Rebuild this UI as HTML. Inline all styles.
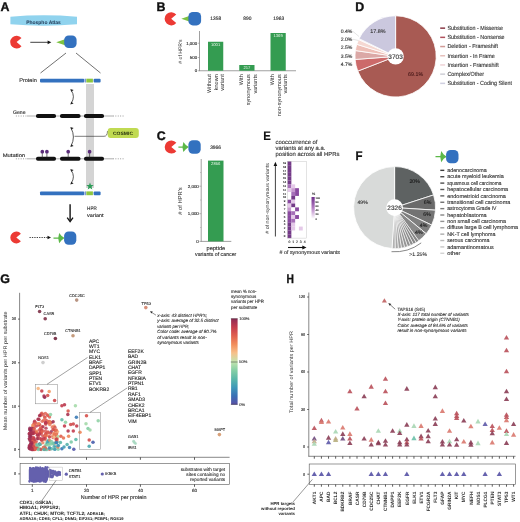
<!DOCTYPE html>
<html><head><meta charset="utf-8"><title>Figure</title>
<style>
html,body{margin:0;padding:0;background:#fff;}
svg{display:block;}
text{font-family:"Liberation Sans", Arial, sans-serif;text-rendering:geometricPrecision;}
</style></head>
<body>
<svg width="520" height="522" viewBox="0 0 520 522">
<rect x="0" y="0" width="520" height="522" fill="#fff"/>
<text x="0.60" y="10.90" font-size="12.4" font-weight="bold" fill="#111" stroke="#111" stroke-width="0.35">A</text>
<path d="M10.4,16.7 Q43.7,14 77,16.7 L77,24.3 Q43.7,27 10.4,24.3 Z" fill="#90d3ee"/>
<text x="43.50" y="23.90" font-size="5.0" text-anchor="middle" font-weight="bold" fill="#1e3552" textLength="34.6" lengthAdjust="spacingAndGlyphs">Phospho Atlas</text>
<path d="M16.60,42.10 L21.50,37.99 A6.4,6.4 0 1,0 21.50,46.21 Z" fill="#ec3a34"/>
<line x1="30.30" y1="42.30" x2="48.50" y2="42.30" stroke="#111" stroke-width="0.8"/>
<polygon points="51.3,42.3 47.6,40.4 47.6,44.2" fill="#111"/>
<polygon points="56.2,42.2 65,39.2 65,45.2" fill="#7cc242"/>
<rect x="64.20" y="35.50" width="12.40" height="12.60" fill="#3371bf" rx="4.5"/>
<line x1="66.00" y1="53.00" x2="40.50" y2="73.00" stroke="#333" stroke-width="0.7"/>
<line x1="76.00" y1="53.00" x2="100.50" y2="73.00" stroke="#333" stroke-width="0.7"/>
<rect x="86.00" y="84.00" width="8.00" height="104.00" fill="#d4d4d4"/>
<rect x="40.00" y="78.70" width="44.30" height="3.80" fill="#3371bf" rx="1"/>
<rect x="84.70" y="78.70" width="1.20" height="3.80" fill="#6f8fd0"/>
<rect x="86.30" y="78.70" width="6.60" height="3.80" fill="#8dc63f"/>
<rect x="93.60" y="78.70" width="7.00" height="3.80" fill="#3371bf" rx="1"/>
<text x="19.20" y="81.50" font-size="5.4" fill="#2a2a2a" textLength="17.6" lengthAdjust="spacingAndGlyphs" stroke="#2a2a2a" stroke-width="0.12">Protein</text>
<path d="M71.2,90.30 Q75.6,96.75 71.2,103.20" fill="none" stroke="#222" stroke-width="0.75"/>
<polygon points="70.3,89.00 73.6,90.10 71.3,91.80" fill="#222"/>
<polygon points="70.3,104.50 73.6,103.40 71.3,101.70" fill="#222"/>
<path d="M71.2,128.30 Q75.6,137.00 71.2,145.70" fill="none" stroke="#222" stroke-width="0.75"/>
<polygon points="70.3,127.00 73.6,128.10 71.3,129.80" fill="#222"/>
<polygon points="70.3,147.00 73.6,145.90 71.3,144.20" fill="#222"/>
<path d="M71.2,170.30 Q75.6,176.75 71.2,183.20" fill="none" stroke="#222" stroke-width="0.75"/>
<polygon points="70.3,169.00 73.6,170.10 71.3,171.80" fill="#222"/>
<polygon points="70.3,184.50 73.6,183.40 71.3,181.70" fill="#222"/>
<line x1="15.9" y1="116.00" x2="27" y2="116.00" stroke="#888" stroke-width="0.9" stroke-dasharray="0.9,1.5"/>
<line x1="27.00" y1="116.00" x2="113.00" y2="116.00" stroke="#999" stroke-width="0.8"/>
<line x1="113" y1="116.00" x2="123.5" y2="116.00" stroke="#888" stroke-width="0.9" stroke-dasharray="0.9,1.5"/>
<rect x="36.00" y="114.00" width="20.00" height="4.00" fill="#111" rx="1.8"/>
<rect x="60.00" y="114.00" width="20.50" height="4.00" fill="#111" rx="1.8"/>
<rect x="84.00" y="114.00" width="20.00" height="4.00" fill="#111" rx="1.8"/>
<text x="13.00" y="113.70" font-size="5.1" fill="#2a2a2a" textLength="12.5" lengthAdjust="spacingAndGlyphs" stroke="#2a2a2a" stroke-width="0.12">Gene</text>
<path d="M74.5,136.3 L104,136.3 Q107.5,136.3 107.5,131" fill="none" stroke="#222" stroke-width="0.6"/>
<rect x="107.70" y="128.00" width="31.10" height="10.00" fill="#c0da52" rx="3"/>
<text x="123.00" y="135.10" font-size="4.8" text-anchor="middle" font-weight="bold" fill="#24300c" textLength="20.1" lengthAdjust="spacingAndGlyphs">COSMIC</text>
<line x1="15.9" y1="158.80" x2="27" y2="158.80" stroke="#888" stroke-width="0.9" stroke-dasharray="0.9,1.5"/>
<line x1="27.00" y1="158.80" x2="113.00" y2="158.80" stroke="#999" stroke-width="0.8"/>
<line x1="113" y1="158.80" x2="123.5" y2="158.80" stroke="#888" stroke-width="0.9" stroke-dasharray="0.9,1.5"/>
<rect x="36.00" y="156.80" width="20.00" height="4.00" fill="#111" rx="1.8"/>
<rect x="60.00" y="156.80" width="20.50" height="4.00" fill="#111" rx="1.8"/>
<rect x="84.00" y="156.80" width="20.00" height="4.00" fill="#111" rx="1.8"/>
<text x="2.70" y="156.50" font-size="5.0" fill="#2a2a2a" textLength="22.5" lengthAdjust="spacingAndGlyphs" stroke="#2a2a2a" stroke-width="0.12">Mutation</text>
<line x1="42.30" y1="153.00" x2="42.30" y2="157.50" stroke="#333" stroke-width="0.7"/>
<circle cx="42.30" cy="151.70" r="1.85" fill="#5b2d7a"/>
<line x1="46.90" y1="153.00" x2="46.90" y2="157.50" stroke="#333" stroke-width="0.7"/>
<circle cx="46.90" cy="151.70" r="1.85" fill="#5b2d7a"/>
<line x1="68.20" y1="153.00" x2="68.20" y2="157.50" stroke="#333" stroke-width="0.7"/>
<circle cx="68.20" cy="151.70" r="1.85" fill="#5b2d7a"/>
<line x1="89.60" y1="153.00" x2="89.60" y2="157.50" stroke="#333" stroke-width="0.7"/>
<circle cx="89.60" cy="151.70" r="1.85" fill="#5b2d7a"/>
<rect x="40.00" y="191.40" width="44.30" height="3.80" fill="#3371bf" rx="1"/>
<rect x="84.70" y="191.40" width="1.20" height="3.80" fill="#6f8fd0"/>
<rect x="86.30" y="191.40" width="6.60" height="3.80" fill="#8dc63f"/>
<rect x="93.60" y="191.40" width="7.00" height="3.80" fill="#3371bf" rx="1"/>
<polygon points="90.00,182.40 90.94,185.01 93.71,185.09 91.52,186.79 92.29,189.46 90.00,187.90 87.71,189.46 88.48,186.79 86.29,185.09 89.06,185.01" fill="#2e9c58"/>
<line x1="70.10" y1="204.20" x2="70.10" y2="220.50" stroke="#111" stroke-width="1.4"/>
<polyline points="67.2,217.6 70.1,221.6 73.0,217.6" fill="none" stroke="#111" stroke-width="1.3"/>
<text x="87.10" y="210.00" font-size="5.0" fill="#2a2a2a" textLength="9.6" lengthAdjust="spacingAndGlyphs" stroke="#2a2a2a" stroke-width="0.12">HPR</text>
<text x="87.10" y="216.90" font-size="5.0" fill="#2a2a2a" textLength="16.5" lengthAdjust="spacingAndGlyphs" stroke="#2a2a2a" stroke-width="0.12">variant</text>
<path d="M16.30,237.50 L20.90,233.64 A6.0,6.0 0 1,0 20.90,241.36 Z" fill="#ec3a34"/>
<line x1="29.5" y1="237.5" x2="48" y2="237.5" stroke="#111" stroke-width="0.8" stroke-dasharray="1.3,1.1"/>
<polygon points="51,237.5 47.5,235.7 47.5,239.3" fill="#111"/>
<polygon points="53.50,237.45 58.30,237.45 59.20,232.90 61.63,236.00 64.60,238.10 61.63,240.20 59.20,243.30 58.30,238.75 53.50,238.75" fill="#5cb848"/>
<rect x="64.10" y="231.50" width="12.20" height="13.20" fill="#3371bf" rx="4.5"/>
<text x="156.60" y="11.00" font-size="12.4" font-weight="bold" fill="#111" stroke="#111" stroke-width="0.35">B</text>
<path d="M171.20,18.80 L176.26,14.56 A6.6,6.6 0 1,0 176.26,23.04 Z" fill="#ec3a34"/>
<polygon points="181.3,18.8 189.2,16.0 189.2,21.6" fill="#7cc242"/>
<rect x="188.40" y="11.90" width="12.70" height="13.50" fill="#3371bf" rx="4.5"/>
<text x="215.80" y="20.40" font-size="4.9" text-anchor="middle" fill="#2a2a2a" stroke="#2a2a2a" stroke-width="0.12">1358</text>
<text x="247.40" y="20.40" font-size="4.9" text-anchor="middle" fill="#2a2a2a" stroke="#2a2a2a" stroke-width="0.12">890</text>
<text x="278.75" y="20.40" font-size="4.9" text-anchor="middle" fill="#2a2a2a" stroke="#2a2a2a" stroke-width="0.12">1963</text>
<line x1="199.50" y1="31.00" x2="199.50" y2="70.90" stroke="#888" stroke-width="0.8"/>
<line x1="199.10" y1="70.75" x2="296.00" y2="70.75" stroke="#888" stroke-width="0.8"/>
<line x1="197.80" y1="43.25" x2="199.50" y2="43.25" stroke="#888" stroke-width="0.6"/>
<text x="197.20" y="44.75" font-size="4.4" text-anchor="end" fill="#2a2a2a" stroke="#2a2a2a" stroke-width="0.12">1,000</text>
<line x1="197.80" y1="57.50" x2="199.50" y2="57.50" stroke="#888" stroke-width="0.6"/>
<text x="197.20" y="59.00" font-size="4.4" text-anchor="end" fill="#2a2a2a" stroke="#2a2a2a" stroke-width="0.12">500</text>
<line x1="197.80" y1="70.75" x2="199.50" y2="70.75" stroke="#888" stroke-width="0.6"/>
<text x="197.20" y="72.25" font-size="4.4" text-anchor="end" fill="#2a2a2a" stroke="#2a2a2a" stroke-width="0.12">0</text>
<text x="0" y="0" font-size="5.1" fill="#2a2a2a" text-anchor="middle" transform="translate(182.0,51.6) rotate(-90)"># of HPR's</text>
<rect x="208.00" y="41.75" width="15.25" height="29.00" fill="#349c51"/>
<text x="215.62" y="45.95" font-size="4.2" text-anchor="middle" fill="#e8f5e8">1001</text>
<rect x="239.25" y="65.00" width="15.25" height="5.75" fill="#349c51"/>
<text x="246.88" y="69.20" font-size="4.2" text-anchor="middle" fill="#e8f5e8">217</text>
<rect x="270.50" y="33.00" width="15.25" height="37.75" fill="#349c51"/>
<text x="278.12" y="37.20" font-size="4.2" text-anchor="middle" fill="#e8f5e8">1369</text>
<text x="0" y="0" font-size="5.5" fill="#2a2a2a" text-anchor="end" transform="translate(211.40,74.30) rotate(-90)">Without</text>
<text x="0" y="0" font-size="5.5" fill="#2a2a2a" text-anchor="end" transform="translate(217.60,74.30) rotate(-90)">known</text>
<text x="0" y="0" font-size="5.5" fill="#2a2a2a" text-anchor="end" transform="translate(224.00,74.30) rotate(-90)">variant</text>
<text x="0" y="0" font-size="5.5" fill="#2a2a2a" text-anchor="end" transform="translate(243.00,74.30) rotate(-90)">With</text>
<text x="0" y="0" font-size="5.5" fill="#2a2a2a" text-anchor="end" transform="translate(249.90,74.30) rotate(-90)">synonymous</text>
<text x="0" y="0" font-size="5.5" fill="#2a2a2a" text-anchor="end" transform="translate(256.90,74.30) rotate(-90)">variants</text>
<text x="0" y="0" font-size="5.5" fill="#2a2a2a" text-anchor="end" transform="translate(273.80,74.30) rotate(-90)">With</text>
<text x="0" y="0" font-size="5.5" fill="#2a2a2a" text-anchor="end" transform="translate(280.70,74.30) rotate(-90)">non-synonymous</text>
<text x="0" y="0" font-size="5.5" fill="#2a2a2a" text-anchor="end" transform="translate(287.20,74.30) rotate(-90)">variants</text>
<text x="156.80" y="139.80" font-size="12.4" font-weight="bold" fill="#111" stroke="#111" stroke-width="0.35">C</text>
<path d="M171.30,147.00 L176.36,142.76 A6.6,6.6 0 1,0 176.36,151.24 Z" fill="#ec3a34"/>
<polygon points="178.40,146.45 182.50,146.45 183.40,142.10 185.83,145.00 188.80,147.10 185.83,149.20 183.40,152.10 182.50,147.75 178.40,147.75" fill="#5cb848"/>
<rect x="188.40" y="140.30" width="12.30" height="13.50" fill="#3371bf" rx="4.5"/>
<text x="215.60" y="148.80" font-size="4.9" text-anchor="middle" fill="#2a2a2a" stroke="#2a2a2a" stroke-width="0.12">3966</text>
<line x1="201.20" y1="159.00" x2="201.20" y2="241.60" stroke="#888" stroke-width="0.8"/>
<line x1="200.80" y1="241.40" x2="231.30" y2="241.40" stroke="#888" stroke-width="0.8"/>
<line x1="199.40" y1="186.20" x2="201.20" y2="186.20" stroke="#888" stroke-width="0.6"/>
<text x="198.80" y="187.70" font-size="4.4" text-anchor="end" fill="#2a2a2a" stroke="#2a2a2a" stroke-width="0.12">2,000</text>
<line x1="199.40" y1="213.70" x2="201.20" y2="213.70" stroke="#888" stroke-width="0.6"/>
<text x="198.80" y="215.20" font-size="4.4" text-anchor="end" fill="#2a2a2a" stroke="#2a2a2a" stroke-width="0.12">1,000</text>
<line x1="199.40" y1="241.40" x2="201.20" y2="241.40" stroke="#888" stroke-width="0.6"/>
<text x="198.80" y="242.90" font-size="4.4" text-anchor="end" fill="#2a2a2a" stroke="#2a2a2a" stroke-width="0.12">0</text>
<line x1="200.20" y1="172.50" x2="201.20" y2="172.50" stroke="#888" stroke-width="0.5"/>
<line x1="200.20" y1="200.00" x2="201.20" y2="200.00" stroke="#888" stroke-width="0.5"/>
<line x1="200.20" y1="227.50" x2="201.20" y2="227.50" stroke="#888" stroke-width="0.5"/>
<rect x="208.00" y="160.60" width="15.50" height="80.80" fill="#349c51"/>
<text x="215.75" y="164.70" font-size="4.2" text-anchor="middle" fill="#e8f5e8">2856</text>
<text x="215.90" y="249.80" font-size="5.5" text-anchor="middle" fill="#2a2a2a" textLength="18.7" lengthAdjust="spacingAndGlyphs" stroke="#2a2a2a" stroke-width="0.12">peptide</text>
<text x="215.70" y="255.60" font-size="5.5" text-anchor="middle" fill="#2a2a2a" textLength="41.2" lengthAdjust="spacingAndGlyphs" stroke="#2a2a2a" stroke-width="0.12">variants of cancer</text>
<text x="0" y="0" font-size="5.8" fill="#2a2a2a" text-anchor="middle" transform="translate(181.8,201) rotate(-90)"># of HPR's</text>
<text x="355.20" y="11.00" font-size="12.4" font-weight="bold" fill="#111" stroke="#111" stroke-width="0.35">D</text>
<path d="M395.60,56.40 L395.60,15.80 A40.6,40.6 0 1,1 357.76,71.11 Z" fill="#a85a53" stroke="#fff" stroke-width="0.8" stroke-linejoin="round"/>
<path d="M395.60,56.40 L357.76,71.11 A40.6,40.6 0 0,1 355.12,59.46 Z" fill="#cc6a6a" stroke="#fff" stroke-width="0.8" stroke-linejoin="round"/>
<path d="M395.60,56.40 L355.12,59.46 A40.6,40.6 0 0,1 355.42,50.55 Z" fill="#dba8a6" stroke="#fff" stroke-width="0.8" stroke-linejoin="round"/>
<path d="M395.60,56.40 L355.42,50.55 A40.6,40.6 0 0,1 356.83,44.34 Z" fill="#eebfb7" stroke="#fff" stroke-width="0.8" stroke-linejoin="round"/>
<path d="M395.60,56.40 L356.83,44.34 A40.6,40.6 0 0,1 358.65,39.58 Z" fill="#f5d8d2" stroke="#fff" stroke-width="0.8" stroke-linejoin="round"/>
<path d="M395.60,56.40 L358.65,39.58 A40.6,40.6 0 0,1 359.08,38.65 Z" fill="#ece6e6" stroke="#fff" stroke-width="0.8" stroke-linejoin="round"/>
<path d="M395.60,56.40 L359.08,38.65 A40.6,40.6 0 0,1 395.60,15.80 Z" fill="#cbc8de" stroke="#fff" stroke-width="0.8" stroke-linejoin="round"/>
<circle cx="395.60" cy="56.40" r="8.20" fill="#fff"/>
<text x="395.60" y="58.70" font-size="6.5" text-anchor="middle" fill="#333" stroke="#333" stroke-width="0.12">3703</text>
<text x="415.60" y="75.90" font-size="5.3" text-anchor="middle" fill="#4a1a1a" stroke="#4a1a1a" stroke-width="0.12">69.1%</text>
<text x="377.80" y="33.00" font-size="5.4" text-anchor="middle" fill="#333" stroke="#333" stroke-width="0.12">17.8%</text>
<text x="352.30" y="33.10" font-size="5.1" text-anchor="end" fill="#333" stroke="#333" stroke-width="0.12">0.4%</text>
<text x="352.30" y="40.90" font-size="5.1" text-anchor="end" fill="#333" stroke="#333" stroke-width="0.12">2.0%</text>
<text x="352.30" y="49.40" font-size="5.1" text-anchor="end" fill="#333" stroke="#333" stroke-width="0.12">2.5%</text>
<text x="352.30" y="57.80" font-size="5.1" text-anchor="end" fill="#333" stroke="#333" stroke-width="0.12">3.5%</text>
<text x="352.30" y="65.70" font-size="5.1" text-anchor="end" fill="#333" stroke="#333" stroke-width="0.12">4.7%</text>
<line x1="353.00" y1="31.50" x2="359.00" y2="36.50" stroke="#bbb" stroke-width="0.4"/>
<line x1="353.00" y1="39.30" x2="358.50" y2="40.50" stroke="#bbb" stroke-width="0.4"/>
<rect x="440.20" y="27.40" width="4.90" height="1.50" fill="#8a3a48"/>
<text x="447.40" y="30.00" font-size="5.9" fill="#333" textLength="55.5" lengthAdjust="spacingAndGlyphs" stroke="#333" stroke-width="0.12">Substitution - Missense</text>
<rect x="440.20" y="36.60" width="4.90" height="1.50" fill="#b0505c"/>
<text x="447.40" y="39.20" font-size="5.9" fill="#333" textLength="57.2" lengthAdjust="spacingAndGlyphs" stroke="#333" stroke-width="0.12">Substitution - Nonsense</text>
<rect x="440.20" y="45.80" width="4.90" height="1.50" fill="#d09a96"/>
<text x="447.40" y="48.40" font-size="5.9" fill="#333" textLength="50.6" lengthAdjust="spacingAndGlyphs" stroke="#333" stroke-width="0.12">Deletion - Frameshift</text>
<rect x="440.20" y="55.00" width="4.90" height="1.50" fill="#e6c0bc"/>
<text x="447.40" y="57.60" font-size="5.9" fill="#333" textLength="47.4" lengthAdjust="spacingAndGlyphs" stroke="#333" stroke-width="0.12">Insertion - In Frame</text>
<rect x="440.20" y="64.20" width="4.90" height="1.50" fill="#eed3d6"/>
<text x="447.40" y="66.80" font-size="5.9" fill="#333" textLength="51.4" lengthAdjust="spacingAndGlyphs" stroke="#333" stroke-width="0.12">Insertion - Frameshift</text>
<rect x="440.20" y="73.40" width="4.90" height="1.50" fill="#cfcfd6"/>
<text x="447.40" y="76.00" font-size="5.9" fill="#333" textLength="36.7" lengthAdjust="spacingAndGlyphs" stroke="#333" stroke-width="0.12">Complex/Other</text>
<rect x="440.20" y="82.60" width="4.90" height="1.50" fill="#cfcfe0"/>
<text x="447.40" y="85.20" font-size="5.9" fill="#333" textLength="64.5" lengthAdjust="spacingAndGlyphs" stroke="#333" stroke-width="0.12">Substitution - Coding Silent</text>
<text x="263.30" y="140.10" font-size="12.4" font-weight="bold" fill="#111" stroke="#111" stroke-width="0.15" textLength="7.6" lengthAdjust="spacingAndGlyphs">E</text>
<text x="275.60" y="143.60" font-size="5.9" fill="#333" stroke="#333" stroke-width="0.12">cooccurrence of</text>
<text x="275.60" y="149.80" font-size="5.9" fill="#333" stroke="#333" stroke-width="0.12">variants at any a.a.</text>
<text x="275.60" y="156.00" font-size="5.9" fill="#333" stroke="#333" stroke-width="0.12">position across all HPRs</text>
<rect x="287.50" y="161.30" width="3.85" height="3.89" fill="#743a88"/>
<rect x="287.50" y="165.14" width="3.85" height="3.89" fill="#743a88"/>
<rect x="287.50" y="168.98" width="3.85" height="3.89" fill="#743a88"/>
<rect x="287.50" y="172.82" width="3.85" height="3.89" fill="#743a88"/>
<rect x="287.50" y="176.66" width="3.85" height="3.89" fill="#743a88"/>
<rect x="287.50" y="180.50" width="3.85" height="3.89" fill="#743a88"/>
<rect x="287.50" y="184.34" width="3.85" height="3.89" fill="#a66fb8"/>
<rect x="291.30" y="184.34" width="3.85" height="3.89" fill="#e4c9e8"/>
<rect x="287.50" y="188.18" width="3.85" height="3.89" fill="#e4c9e8"/>
<rect x="291.30" y="188.18" width="3.85" height="3.89" fill="#c79ad0"/>
<rect x="295.10" y="188.18" width="3.85" height="3.89" fill="#8a4aa0"/>
<rect x="287.50" y="192.02" width="3.85" height="3.89" fill="#ffffff"/>
<rect x="291.30" y="192.02" width="3.85" height="3.89" fill="#a66fb8"/>
<rect x="295.10" y="192.02" width="3.85" height="3.89" fill="#8a4aa0"/>
<rect x="287.50" y="195.86" width="3.85" height="3.89" fill="#ffffff"/>
<rect x="291.30" y="195.86" width="3.85" height="3.89" fill="#743a88"/>
<rect x="287.50" y="199.70" width="3.85" height="3.89" fill="#8a4aa0"/>
<rect x="291.30" y="199.70" width="3.85" height="3.89" fill="#e4c9e8"/>
<rect x="287.50" y="203.54" width="3.85" height="3.89" fill="#e4c9e8"/>
<rect x="291.30" y="203.54" width="3.85" height="3.89" fill="#743a88"/>
<rect x="287.50" y="207.38" width="3.85" height="3.89" fill="#c79ad0"/>
<rect x="291.30" y="207.38" width="3.85" height="3.89" fill="#ffffff"/>
<rect x="295.10" y="207.38" width="3.85" height="3.89" fill="#8a4aa0"/>
<rect x="287.50" y="211.22" width="3.85" height="3.89" fill="#8a4aa0"/>
<rect x="291.30" y="211.22" width="3.85" height="3.89" fill="#a66fb8"/>
<rect x="287.50" y="215.06" width="3.85" height="3.89" fill="#8a4aa0"/>
<rect x="291.30" y="215.06" width="3.85" height="3.89" fill="#e4c9e8"/>
<rect x="295.10" y="215.06" width="3.85" height="3.89" fill="#8a4aa0"/>
<rect x="287.50" y="218.90" width="3.85" height="3.89" fill="#8a4aa0"/>
<rect x="291.30" y="218.90" width="3.85" height="3.89" fill="#a66fb8"/>
<rect x="287.50" y="222.74" width="3.85" height="3.89" fill="#743a88"/>
<rect x="291.30" y="222.74" width="3.85" height="3.89" fill="#e4c9e8"/>
<rect x="287.50" y="226.58" width="3.85" height="3.89" fill="#743a88"/>
<rect x="291.30" y="226.58" width="3.85" height="3.89" fill="#e4c9e8"/>
<rect x="298.90" y="226.58" width="3.85" height="3.89" fill="#e4c9e8"/>
<rect x="287.50" y="230.42" width="3.85" height="3.89" fill="#743a88"/>
<rect x="287.50" y="234.26" width="3.85" height="3.89" fill="#743a88"/>
<rect x="287.5" y="161.3" width="19.00" height="76.8" fill="none" stroke="#bbb" stroke-width="0.4"/>
<text x="284.60" y="163.90" font-size="2.9" text-anchor="middle" fill="#2a2a2a" stroke="#2a2a2a" stroke-width="0.12">19</text>
<text x="284.60" y="167.74" font-size="2.9" text-anchor="middle" fill="#2a2a2a" stroke="#2a2a2a" stroke-width="0.12">18</text>
<text x="284.60" y="171.58" font-size="2.9" text-anchor="middle" fill="#2a2a2a" stroke="#2a2a2a" stroke-width="0.12">17</text>
<text x="284.60" y="175.42" font-size="2.9" text-anchor="middle" fill="#2a2a2a" stroke="#2a2a2a" stroke-width="0.12">16</text>
<text x="284.60" y="179.26" font-size="2.9" text-anchor="middle" fill="#2a2a2a" stroke="#2a2a2a" stroke-width="0.12">15</text>
<text x="284.60" y="183.10" font-size="2.9" text-anchor="middle" fill="#2a2a2a" stroke="#2a2a2a" stroke-width="0.12">14</text>
<text x="284.60" y="186.94" font-size="2.9" text-anchor="middle" fill="#2a2a2a" stroke="#2a2a2a" stroke-width="0.12">13</text>
<text x="284.60" y="190.78" font-size="2.9" text-anchor="middle" fill="#2a2a2a" stroke="#2a2a2a" stroke-width="0.12">12</text>
<text x="284.60" y="194.62" font-size="2.9" text-anchor="middle" fill="#2a2a2a" stroke="#2a2a2a" stroke-width="0.12">11</text>
<text x="284.60" y="198.46" font-size="2.9" text-anchor="middle" fill="#2a2a2a" stroke="#2a2a2a" stroke-width="0.12">10</text>
<text x="284.60" y="202.30" font-size="2.9" text-anchor="middle" fill="#2a2a2a" stroke="#2a2a2a" stroke-width="0.12">9</text>
<text x="284.60" y="206.14" font-size="2.9" text-anchor="middle" fill="#2a2a2a" stroke="#2a2a2a" stroke-width="0.12">8</text>
<text x="284.60" y="209.98" font-size="2.9" text-anchor="middle" fill="#2a2a2a" stroke="#2a2a2a" stroke-width="0.12">7</text>
<text x="284.60" y="213.82" font-size="2.9" text-anchor="middle" fill="#2a2a2a" stroke="#2a2a2a" stroke-width="0.12">6</text>
<text x="284.60" y="217.66" font-size="2.9" text-anchor="middle" fill="#2a2a2a" stroke="#2a2a2a" stroke-width="0.12">5</text>
<text x="284.60" y="221.50" font-size="2.9" text-anchor="middle" fill="#2a2a2a" stroke="#2a2a2a" stroke-width="0.12">4</text>
<text x="284.60" y="225.34" font-size="2.9" text-anchor="middle" fill="#2a2a2a" stroke="#2a2a2a" stroke-width="0.12">3</text>
<text x="284.60" y="229.18" font-size="2.9" text-anchor="middle" fill="#2a2a2a" stroke="#2a2a2a" stroke-width="0.12">2</text>
<text x="284.60" y="233.02" font-size="2.9" text-anchor="middle" fill="#2a2a2a" stroke="#2a2a2a" stroke-width="0.12">1</text>
<text x="284.60" y="236.86" font-size="2.9" text-anchor="middle" fill="#2a2a2a" stroke="#2a2a2a" stroke-width="0.12">0</text>
<text x="289.40" y="243.00" font-size="3.4" text-anchor="middle" fill="#2a2a2a" stroke="#2a2a2a" stroke-width="0.12">0</text>
<text x="293.20" y="243.00" font-size="3.4" text-anchor="middle" fill="#2a2a2a" stroke="#2a2a2a" stroke-width="0.12">1</text>
<text x="297.00" y="243.00" font-size="3.4" text-anchor="middle" fill="#2a2a2a" stroke="#2a2a2a" stroke-width="0.12">2</text>
<text x="300.80" y="243.00" font-size="3.4" text-anchor="middle" fill="#2a2a2a" stroke="#2a2a2a" stroke-width="0.12">3</text>
<text x="304.60" y="243.00" font-size="3.4" text-anchor="middle" fill="#2a2a2a" stroke="#2a2a2a" stroke-width="0.12">4</text>
<line x1="275.40" y1="236.50" x2="275.40" y2="165.00" stroke="#111" stroke-width="0.8"/>
<polygon points="275.4,161.8 273.6,166 277.2,166" fill="#111"/>
<line x1="288.00" y1="247.50" x2="303.00" y2="247.50" stroke="#111" stroke-width="1.1"/>
<polygon points="306.5,247.5 302.3,245.5 302.3,249.5" fill="#111"/>
<text x="279.50" y="254.20" font-size="5.3" fill="#333" textLength="60.5" lengthAdjust="spacingAndGlyphs" stroke="#333" stroke-width="0.12"># of synonymous variants</text>
<text x="0" y="0" font-size="5.0" fill="#333" text-anchor="middle" transform="translate(269.4,198.4) rotate(-90)" textLength="70.8" lengthAdjust="spacingAndGlyphs"># of non-synonymous variants</text>
<defs><linearGradient id="hg" x1="0" y1="0" x2="0" y2="1"><stop offset="0" stop-color="#6e2f8a"/><stop offset="0.5" stop-color="#b57fc4"/><stop offset="1" stop-color="#ffffff"/></linearGradient></defs>
<text x="313.60" y="195.00" font-size="3.6" text-anchor="middle" fill="#333" stroke="#333" stroke-width="0.12">%</text>
<rect x="311.50" y="197.00" width="3.20" height="21.80" fill="url(#hg)"/>
<text x="315.60" y="198.60" font-size="2.6" fill="#2a2a2a" stroke="#2a2a2a" stroke-width="0.12">100</text>
<text x="315.60" y="202.80" font-size="2.6" fill="#2a2a2a" stroke="#2a2a2a" stroke-width="0.12">80</text>
<text x="315.60" y="207.00" font-size="2.6" fill="#2a2a2a" stroke="#2a2a2a" stroke-width="0.12">60</text>
<text x="315.60" y="211.20" font-size="2.6" fill="#2a2a2a" stroke="#2a2a2a" stroke-width="0.12">40</text>
<text x="315.60" y="215.40" font-size="2.6" fill="#2a2a2a" stroke="#2a2a2a" stroke-width="0.12">20</text>
<text x="315.60" y="219.60" font-size="2.6" fill="#2a2a2a" stroke="#2a2a2a" stroke-width="0.12">0</text>
<text x="355.60" y="160.00" font-size="12.4" font-weight="bold" fill="#111" stroke="#111" stroke-width="0.3" textLength="7.0" lengthAdjust="spacingAndGlyphs">F</text>
<path d="M394.60,207.60 L394.60,166.60 A41.0,41.0 0 0,1 433.59,194.93 Z" fill="#5e6262" stroke="#fff" stroke-width="0.8" stroke-linejoin="round"/>
<path d="M394.60,207.60 L433.59,194.93 A41.0,41.0 0 0,1 435.52,210.17 Z" fill="#6a6a6a" stroke="#fff" stroke-width="0.8" stroke-linejoin="round"/>
<path d="M394.60,207.60 L435.52,210.17 A41.0,41.0 0 0,1 431.70,225.06 Z" fill="#737373" stroke="#fff" stroke-width="0.8" stroke-linejoin="round"/>
<path d="M394.60,207.60 L431.70,225.06 A41.0,41.0 0 0,1 426.19,233.73 Z" fill="#7e7e7e" stroke="#fff" stroke-width="0.8" stroke-linejoin="round"/>
<path d="M394.60,207.60 L426.19,233.73 A41.0,41.0 0 0,1 418.70,240.77 Z" fill="#888888" stroke="#fff" stroke-width="0.8" stroke-linejoin="round"/>
<path d="M394.60,207.60 L418.70,240.77 A41.0,41.0 0 0,1 416.08,242.52 Z" fill="#848484" stroke="#fff" stroke-width="0.6" stroke-linejoin="round"/>
<path d="M394.60,207.60 L416.08,242.52 A41.0,41.0 0 0,1 413.34,244.07 Z" fill="#888888" stroke="#fff" stroke-width="0.6" stroke-linejoin="round"/>
<path d="M394.60,207.60 L413.34,244.07 A41.0,41.0 0 0,1 410.49,245.40 Z" fill="#8c8c8c" stroke="#fff" stroke-width="0.6" stroke-linejoin="round"/>
<path d="M394.60,207.60 L410.49,245.40 A41.0,41.0 0 0,1 407.54,246.50 Z" fill="#909090" stroke="#fff" stroke-width="0.6" stroke-linejoin="round"/>
<path d="M394.60,207.60 L407.54,246.50 A41.0,41.0 0 0,1 404.52,247.38 Z" fill="#959595" stroke="#fff" stroke-width="0.6" stroke-linejoin="round"/>
<path d="M394.60,207.60 L404.52,247.38 A41.0,41.0 0 0,1 401.44,248.03 Z" fill="#9a9a9a" stroke="#fff" stroke-width="0.6" stroke-linejoin="round"/>
<path d="M394.60,207.60 L401.44,248.03 A41.0,41.0 0 0,1 398.32,248.43 Z" fill="#a0a0a0" stroke="#fff" stroke-width="0.6" stroke-linejoin="round"/>
<path d="M394.60,207.60 L398.32,248.43 A41.0,41.0 0 0,1 395.17,248.60 Z" fill="#a8a8a8" stroke="#fff" stroke-width="0.6" stroke-linejoin="round"/>
<path d="M394.60,207.60 L395.17,248.60 A41.0,41.0 0 0,1 392.03,248.52 Z" fill="#b2b2b2" stroke="#fff" stroke-width="0.6" stroke-linejoin="round"/>
<path d="M394.60,207.60 L392.03,248.52 A41.0,41.0 0 0,1 394.60,166.60 Z" fill="#d8dad9" stroke="#fff" stroke-width="0.8" stroke-linejoin="round"/>
<circle cx="394.60" cy="207.60" r="8.40" fill="#fff"/>
<text x="394.60" y="209.90" font-size="6.5" text-anchor="middle" fill="#333" stroke="#333" stroke-width="0.12">2326</text>
<text x="414.60" y="183.20" font-size="5.2" text-anchor="middle" fill="#1a1a1a" stroke="#1a1a1a" stroke-width="0.12">20%</text>
<text x="427.60" y="204.40" font-size="5.2" text-anchor="middle" fill="#1a1a1a" stroke="#1a1a1a" stroke-width="0.12">6%</text>
<text x="427.00" y="216.00" font-size="5.2" text-anchor="middle" fill="#1a1a1a" stroke="#1a1a1a" stroke-width="0.12">6%</text>
<text x="423.60" y="226.80" font-size="5.2" text-anchor="middle" fill="#1a1a1a" stroke="#1a1a1a" stroke-width="0.12">4%</text>
<text x="418.80" y="233.80" font-size="5.2" text-anchor="middle" fill="#1a1a1a" stroke="#1a1a1a" stroke-width="0.12">4%</text>
<text x="362.60" y="204.40" font-size="5.0" text-anchor="middle" fill="#2a2a2a" stroke="#2a2a2a" stroke-width="0.12">49%</text>
<path d="M421.20,242.90 A44.2,44.2 0 0,1 391.52,251.69" fill="none" stroke="#555" stroke-width="0.7"/>
<text x="418.20" y="255.60" font-size="5.2" text-anchor="middle" fill="#333" stroke="#333" stroke-width="0.12">&gt;1.25%</text>
<polygon points="435.50,156.05 440.30,156.05 441.20,151.10 443.72,154.60 446.80,156.70 443.72,158.80 441.20,162.30 440.30,157.35 435.50,157.35" fill="#5cb848"/>
<rect x="446.10" y="150.00" width="12.40" height="13.30" fill="#3371bf" rx="4.5"/>
<rect x="440.30" y="169.65" width="4.00" height="1.40" fill="#3a3a3a"/>
<text x="447.20" y="172.05" font-size="5.4" fill="#333" textLength="39.6" lengthAdjust="spacingAndGlyphs" stroke="#333" stroke-width="0.12">adenocarcinoma</text>
<rect x="440.30" y="176.03" width="4.00" height="1.40" fill="#444"/>
<text x="447.20" y="178.43" font-size="5.4" fill="#333" textLength="56.5" lengthAdjust="spacingAndGlyphs" stroke="#333" stroke-width="0.12">acute myeloid leukemia</text>
<rect x="440.30" y="182.41" width="4.00" height="1.40" fill="#4e4e4e"/>
<text x="447.20" y="184.81" font-size="5.4" fill="#333" textLength="54.3" lengthAdjust="spacingAndGlyphs" stroke="#333" stroke-width="0.12">squamous cell carcinoma</text>
<rect x="440.30" y="188.79" width="4.00" height="1.40" fill="#585858"/>
<text x="447.20" y="191.19" font-size="5.4" fill="#333" textLength="60.9" lengthAdjust="spacingAndGlyphs" stroke="#333" stroke-width="0.12">hepatocellular carcinoma</text>
<rect x="440.30" y="195.17" width="4.00" height="1.40" fill="#636363"/>
<text x="447.20" y="197.57" font-size="5.4" fill="#333" textLength="58.7" lengthAdjust="spacingAndGlyphs" stroke="#333" stroke-width="0.12">endometrioid carcinoma</text>
<rect x="440.30" y="201.55" width="4.00" height="1.40" fill="#6e6e6e"/>
<text x="447.20" y="203.95" font-size="5.4" fill="#333" textLength="63.1" lengthAdjust="spacingAndGlyphs" stroke="#333" stroke-width="0.12">transitional cell carcinoma</text>
<rect x="440.30" y="207.93" width="4.00" height="1.40" fill="#7a7a7a"/>
<text x="447.20" y="210.33" font-size="5.4" fill="#333" textLength="49.3" lengthAdjust="spacingAndGlyphs" stroke="#333" stroke-width="0.12">astrocytoma Grade IV</text>
<rect x="440.30" y="214.31" width="4.00" height="1.40" fill="#868686"/>
<text x="447.20" y="216.71" font-size="5.4" fill="#333" textLength="39.4" lengthAdjust="spacingAndGlyphs" stroke="#333" stroke-width="0.12">hepatoblastoma</text>
<rect x="440.30" y="220.69" width="4.00" height="1.40" fill="#939393"/>
<text x="447.20" y="223.09" font-size="5.4" fill="#333" textLength="58.7" lengthAdjust="spacingAndGlyphs" stroke="#333" stroke-width="0.12">non small cell carcinoma</text>
<rect x="440.30" y="227.07" width="4.00" height="1.40" fill="#a0a0a0"/>
<text x="447.20" y="229.47" font-size="5.4" fill="#333" textLength="70.8" lengthAdjust="spacingAndGlyphs" stroke="#333" stroke-width="0.12">diffuse large B cell lymphoma</text>
<rect x="440.30" y="233.45" width="4.00" height="1.40" fill="#adadad"/>
<text x="447.20" y="235.85" font-size="5.4" fill="#333" textLength="48.2" lengthAdjust="spacingAndGlyphs" stroke="#333" stroke-width="0.12">NK-T cell lymphoma</text>
<rect x="440.30" y="239.83" width="4.00" height="1.40" fill="#bababa"/>
<text x="447.20" y="242.23" font-size="5.4" fill="#333" textLength="42.2" lengthAdjust="spacingAndGlyphs" stroke="#333" stroke-width="0.12">serous carcinoma</text>
<rect x="440.30" y="246.21" width="4.00" height="1.40" fill="#c6c6c6"/>
<text x="447.20" y="248.61" font-size="5.4" fill="#333" textLength="46.6" lengthAdjust="spacingAndGlyphs" stroke="#333" stroke-width="0.12">adamantinomatous</text>
<rect x="440.30" y="252.59" width="4.00" height="1.40" fill="#d2d2d2"/>
<text x="447.20" y="254.99" font-size="5.4" fill="#333" textLength="13.2" lengthAdjust="spacingAndGlyphs" stroke="#333" stroke-width="0.12">other</text>
<text x="0.30" y="283.10" font-size="12.4" font-weight="bold" fill="#111" stroke="#111" stroke-width="0.35">G</text>
<line x1="19.60" y1="292.80" x2="19.60" y2="457.40" stroke="#555" stroke-width="0.7"/>
<line x1="19.30" y1="457.30" x2="229.60" y2="457.30" stroke="#555" stroke-width="0.7"/>
<line x1="18.00" y1="319.10" x2="19.60" y2="319.10" stroke="#333" stroke-width="0.8"/>
<text x="16.00" y="320.40" font-size="3.8" text-anchor="end" fill="#2a2a2a" stroke="#2a2a2a" stroke-width="0.12">30</text>
<line x1="18.00" y1="362.80" x2="19.60" y2="362.80" stroke="#333" stroke-width="0.8"/>
<text x="16.00" y="364.10" font-size="3.8" text-anchor="end" fill="#2a2a2a" stroke="#2a2a2a" stroke-width="0.12">20</text>
<line x1="18.00" y1="406.20" x2="19.60" y2="406.20" stroke="#333" stroke-width="0.8"/>
<text x="16.00" y="407.50" font-size="3.8" text-anchor="end" fill="#2a2a2a" stroke="#2a2a2a" stroke-width="0.12">10</text>
<line x1="18.00" y1="449.40" x2="19.60" y2="449.40" stroke="#333" stroke-width="0.8"/>
<text x="16.00" y="450.70" font-size="3.8" text-anchor="end" fill="#2a2a2a" stroke="#2a2a2a" stroke-width="0.12">0</text>
<line x1="32.30" y1="457.30" x2="32.30" y2="459.80" stroke="#333" stroke-width="0.8"/>
<line x1="86.50" y1="457.30" x2="86.50" y2="459.80" stroke="#333" stroke-width="0.8"/>
<line x1="140.40" y1="457.30" x2="140.40" y2="459.80" stroke="#333" stroke-width="0.8"/>
<line x1="194.50" y1="457.30" x2="194.50" y2="459.80" stroke="#333" stroke-width="0.8"/>
<text x="0" y="0" font-size="5.2" fill="#333" text-anchor="middle" transform="translate(6.7,370.8) rotate(-90)" textLength="119" lengthAdjust="spacingAndGlyphs">Mean number of variants per HPR per substrate</text>
<circle cx="41.93" cy="413.13" r="1.70" fill="#e0604f" fill-opacity="0.82"/>
<circle cx="47.47" cy="414.96" r="1.70" fill="#db594f" fill-opacity="0.82"/>
<circle cx="40.75" cy="415.67" r="1.70" fill="#f39764" fill-opacity="0.82"/>
<circle cx="41.11" cy="413.92" r="1.70" fill="#d04c4e" fill-opacity="0.82"/>
<circle cx="44.71" cy="416.90" r="1.70" fill="#bf3a4f" fill-opacity="0.82"/>
<circle cx="45.41" cy="413.35" r="1.70" fill="#df5e4f" fill-opacity="0.82"/>
<circle cx="47.82" cy="415.62" r="1.70" fill="#de5d4f" fill-opacity="0.82"/>
<circle cx="39.57" cy="415.79" r="1.70" fill="#af3551" fill-opacity="0.82"/>
<circle cx="46.32" cy="420.51" r="1.70" fill="#ce484e" fill-opacity="0.82"/>
<circle cx="38.00" cy="419.09" r="1.70" fill="#c03b4e" fill-opacity="0.82"/>
<circle cx="40.03" cy="415.34" r="1.70" fill="#a83352" fill-opacity="0.82"/>
<circle cx="43.08" cy="414.77" r="1.70" fill="#da584f" fill-opacity="0.82"/>
<circle cx="39.23" cy="419.59" r="1.70" fill="#e26651" fill-opacity="0.82"/>
<circle cx="34.60" cy="421.28" r="1.70" fill="#bb394f" fill-opacity="0.82"/>
<circle cx="48.97" cy="422.68" r="1.70" fill="#cb464e" fill-opacity="0.82"/>
<circle cx="38.50" cy="419.29" r="1.70" fill="#a23152" fill-opacity="0.82"/>
<circle cx="42.23" cy="421.35" r="1.70" fill="#e16350" fill-opacity="0.82"/>
<circle cx="51.11" cy="422.65" r="1.70" fill="#cb454e" fill-opacity="0.82"/>
<circle cx="48.24" cy="421.53" r="1.70" fill="#e97755" fill-opacity="0.82"/>
<circle cx="49.56" cy="416.93" r="1.70" fill="#dd5d4f" fill-opacity="0.82"/>
<circle cx="44.96" cy="417.68" r="1.70" fill="#e26550" fill-opacity="0.82"/>
<circle cx="45.70" cy="424.26" r="1.70" fill="#d7544f" fill-opacity="0.82"/>
<circle cx="48.19" cy="422.50" r="1.70" fill="#ea7a56" fill-opacity="0.82"/>
<circle cx="39.12" cy="423.94" r="1.70" fill="#d9574f" fill-opacity="0.82"/>
<circle cx="43.70" cy="420.32" r="1.70" fill="#e26550" fill-opacity="0.82"/>
<circle cx="34.48" cy="422.25" r="1.70" fill="#bf3a4f" fill-opacity="0.82"/>
<circle cx="39.83" cy="425.00" r="1.70" fill="#de5e4f" fill-opacity="0.82"/>
<circle cx="45.80" cy="422.91" r="1.70" fill="#c23b4e" fill-opacity="0.82"/>
<circle cx="45.37" cy="422.66" r="1.70" fill="#c03b4f" fill-opacity="0.82"/>
<circle cx="45.93" cy="422.76" r="1.70" fill="#b73850" fill-opacity="0.82"/>
<circle cx="49.46" cy="421.46" r="1.70" fill="#e16350" fill-opacity="0.82"/>
<circle cx="36.11" cy="426.14" r="1.70" fill="#c7404e" fill-opacity="0.82"/>
<circle cx="50.61" cy="422.17" r="1.70" fill="#ed8158" fill-opacity="0.82"/>
<circle cx="54.07" cy="426.06" r="1.70" fill="#f49d6a" fill-opacity="0.82"/>
<circle cx="38.64" cy="425.04" r="1.70" fill="#c53d4e" fill-opacity="0.82"/>
<circle cx="40.70" cy="428.19" r="1.70" fill="#e87555" fill-opacity="0.82"/>
<circle cx="42.13" cy="426.83" r="1.70" fill="#e16350" fill-opacity="0.82"/>
<circle cx="54.90" cy="427.19" r="1.70" fill="#d14d4e" fill-opacity="0.82"/>
<circle cx="49.74" cy="424.58" r="1.70" fill="#e77254" fill-opacity="0.82"/>
<circle cx="52.21" cy="427.06" r="1.70" fill="#e56e53" fill-opacity="0.82"/>
<circle cx="33.54" cy="424.57" r="1.70" fill="#d7544f" fill-opacity="0.82"/>
<circle cx="34.16" cy="428.40" r="1.70" fill="#dc5b4f" fill-opacity="0.82"/>
<circle cx="29.79" cy="428.20" r="1.70" fill="#902b55" fill-opacity="0.82"/>
<circle cx="45.99" cy="428.17" r="1.70" fill="#b23650" fill-opacity="0.82"/>
<circle cx="38.32" cy="423.74" r="1.70" fill="#f28f5d" fill-opacity="0.82"/>
<circle cx="35.80" cy="423.03" r="1.70" fill="#d8564f" fill-opacity="0.82"/>
<circle cx="33.09" cy="426.83" r="1.70" fill="#e46952" fill-opacity="0.82"/>
<circle cx="31.75" cy="428.21" r="1.70" fill="#952c54" fill-opacity="0.82"/>
<circle cx="42.94" cy="426.70" r="1.70" fill="#ae3551" fill-opacity="0.82"/>
<circle cx="34.75" cy="424.07" r="1.70" fill="#e36851" fill-opacity="0.82"/>
<circle cx="31.82" cy="430.69" r="1.70" fill="#a83352" fill-opacity="0.82"/>
<circle cx="48.03" cy="432.39" r="1.70" fill="#d4514f" fill-opacity="0.82"/>
<circle cx="51.24" cy="431.69" r="1.70" fill="#912b55" fill-opacity="0.82"/>
<circle cx="30.42" cy="429.13" r="1.70" fill="#a33152" fill-opacity="0.82"/>
<circle cx="40.89" cy="431.53" r="1.70" fill="#c8414e" fill-opacity="0.82"/>
<circle cx="32.70" cy="425.49" r="1.70" fill="#f28d5c" fill-opacity="0.82"/>
<circle cx="32.97" cy="428.75" r="1.70" fill="#a53252" fill-opacity="0.82"/>
<circle cx="33.50" cy="433.49" r="1.70" fill="#c9424e" fill-opacity="0.82"/>
<circle cx="40.52" cy="428.44" r="1.70" fill="#df5f4f" fill-opacity="0.82"/>
<circle cx="46.09" cy="433.42" r="1.70" fill="#e67053" fill-opacity="0.82"/>
<circle cx="45.39" cy="431.13" r="1.70" fill="#d9574f" fill-opacity="0.82"/>
<circle cx="36.39" cy="432.80" r="1.70" fill="#e56c52" fill-opacity="0.82"/>
<circle cx="34.18" cy="428.89" r="1.70" fill="#e16350" fill-opacity="0.82"/>
<circle cx="54.90" cy="434.29" r="1.70" fill="#eb7c57" fill-opacity="0.82"/>
<circle cx="54.52" cy="429.78" r="1.70" fill="#f39663" fill-opacity="0.82"/>
<circle cx="56.63" cy="433.71" r="1.70" fill="#ce494e" fill-opacity="0.82"/>
<circle cx="45.93" cy="433.78" r="1.70" fill="#ce494e" fill-opacity="0.82"/>
<circle cx="55.96" cy="430.76" r="1.70" fill="#f28e5c" fill-opacity="0.82"/>
<circle cx="41.47" cy="430.57" r="1.70" fill="#c8414e" fill-opacity="0.82"/>
<circle cx="41.33" cy="430.12" r="1.70" fill="#c03b4e" fill-opacity="0.82"/>
<circle cx="50.35" cy="433.34" r="1.70" fill="#d5514f" fill-opacity="0.82"/>
<circle cx="55.06" cy="430.38" r="1.70" fill="#dc5b4f" fill-opacity="0.82"/>
<circle cx="57.47" cy="431.59" r="1.70" fill="#f4a16e" fill-opacity="0.82"/>
<circle cx="29.95" cy="433.79" r="1.70" fill="#a33152" fill-opacity="0.82"/>
<circle cx="53.75" cy="433.39" r="1.70" fill="#f18b5b" fill-opacity="0.82"/>
<circle cx="52.72" cy="436.05" r="1.70" fill="#ee8359" fill-opacity="0.82"/>
<circle cx="29.92" cy="429.38" r="1.70" fill="#a43152" fill-opacity="0.82"/>
<circle cx="39.26" cy="429.84" r="1.70" fill="#d5524f" fill-opacity="0.82"/>
<circle cx="31.80" cy="433.20" r="1.70" fill="#982d54" fill-opacity="0.82"/>
<circle cx="47.89" cy="431.89" r="1.70" fill="#da594f" fill-opacity="0.82"/>
<circle cx="41.22" cy="432.68" r="1.70" fill="#df5f4f" fill-opacity="0.82"/>
<circle cx="30.01" cy="433.63" r="1.70" fill="#962d54" fill-opacity="0.82"/>
<circle cx="35.98" cy="432.56" r="1.70" fill="#ca434e" fill-opacity="0.82"/>
<circle cx="30.17" cy="430.29" r="1.70" fill="#8f2a55" fill-opacity="0.82"/>
<circle cx="55.86" cy="436.07" r="1.70" fill="#f5c18b" fill-opacity="0.82"/>
<circle cx="40.48" cy="433.21" r="1.70" fill="#cc474e" fill-opacity="0.82"/>
<circle cx="57.52" cy="436.46" r="1.70" fill="#86cfa5" fill-opacity="0.82"/>
<circle cx="33.70" cy="433.10" r="1.70" fill="#ca434e" fill-opacity="0.82"/>
<circle cx="29.21" cy="433.89" r="1.70" fill="#942c54" fill-opacity="0.82"/>
<circle cx="42.55" cy="430.82" r="1.70" fill="#d9574f" fill-opacity="0.82"/>
<circle cx="34.83" cy="431.68" r="1.70" fill="#d04c4e" fill-opacity="0.82"/>
<circle cx="56.24" cy="434.40" r="1.70" fill="#ee8459" fill-opacity="0.82"/>
<circle cx="36.66" cy="431.28" r="1.70" fill="#ec7e58" fill-opacity="0.82"/>
<circle cx="29.39" cy="438.61" r="1.70" fill="#a83352" fill-opacity="0.82"/>
<circle cx="38.40" cy="435.99" r="1.70" fill="#cb454e" fill-opacity="0.82"/>
<circle cx="33.56" cy="431.99" r="1.70" fill="#b9384f" fill-opacity="0.82"/>
<circle cx="41.80" cy="432.24" r="1.70" fill="#e0614f" fill-opacity="0.82"/>
<circle cx="30.12" cy="434.49" r="1.70" fill="#a53252" fill-opacity="0.82"/>
<circle cx="31.26" cy="436.99" r="1.70" fill="#ac3451" fill-opacity="0.82"/>
<circle cx="37.51" cy="434.55" r="1.70" fill="#d8564f" fill-opacity="0.82"/>
<circle cx="30.48" cy="432.35" r="1.70" fill="#a03053" fill-opacity="0.82"/>
<circle cx="53.16" cy="437.66" r="1.70" fill="#d04b4e" fill-opacity="0.82"/>
<circle cx="48.78" cy="440.12" r="1.70" fill="#70c3a7" fill-opacity="0.82"/>
<circle cx="39.73" cy="433.02" r="1.70" fill="#ce484e" fill-opacity="0.82"/>
<circle cx="33.45" cy="437.95" r="1.70" fill="#b83850" fill-opacity="0.82"/>
<circle cx="32.22" cy="433.90" r="1.70" fill="#b13650" fill-opacity="0.82"/>
<circle cx="42.00" cy="440.27" r="1.70" fill="#b13650" fill-opacity="0.82"/>
<circle cx="32.56" cy="433.21" r="1.70" fill="#aa3351" fill-opacity="0.82"/>
<circle cx="57.01" cy="438.64" r="1.70" fill="#f0885a" fill-opacity="0.82"/>
<circle cx="29.44" cy="433.40" r="1.70" fill="#b23650" fill-opacity="0.82"/>
<circle cx="30.35" cy="434.73" r="1.70" fill="#a23152" fill-opacity="0.82"/>
<circle cx="33.67" cy="437.66" r="1.70" fill="#d14d4e" fill-opacity="0.82"/>
<circle cx="30.55" cy="436.60" r="1.70" fill="#992e54" fill-opacity="0.82"/>
<circle cx="45.44" cy="435.27" r="1.70" fill="#e16450" fill-opacity="0.82"/>
<circle cx="39.54" cy="434.13" r="1.70" fill="#bd3a4f" fill-opacity="0.82"/>
<circle cx="49.68" cy="436.60" r="1.70" fill="#dc5b4f" fill-opacity="0.82"/>
<circle cx="47.35" cy="435.40" r="1.70" fill="#ed8158" fill-opacity="0.82"/>
<circle cx="44.97" cy="436.44" r="1.70" fill="#e56d53" fill-opacity="0.82"/>
<circle cx="30.05" cy="440.58" r="1.70" fill="#912b55" fill-opacity="0.82"/>
<circle cx="29.41" cy="439.11" r="1.70" fill="#a53252" fill-opacity="0.82"/>
<circle cx="32.73" cy="439.23" r="1.70" fill="#df5e4f" fill-opacity="0.82"/>
<circle cx="37.35" cy="435.16" r="1.70" fill="#ad3451" fill-opacity="0.82"/>
<circle cx="29.66" cy="436.51" r="1.70" fill="#962d54" fill-opacity="0.82"/>
<circle cx="54.50" cy="434.01" r="1.70" fill="#e87455" fill-opacity="0.82"/>
<circle cx="37.25" cy="438.41" r="1.70" fill="#cd484e" fill-opacity="0.82"/>
<circle cx="45.09" cy="439.75" r="1.70" fill="#ea7956" fill-opacity="0.82"/>
<circle cx="56.43" cy="436.44" r="1.70" fill="#e26651" fill-opacity="0.82"/>
<circle cx="34.51" cy="441.33" r="1.70" fill="#cd484e" fill-opacity="0.82"/>
<circle cx="45.40" cy="435.31" r="1.70" fill="#dc5b4f" fill-opacity="0.82"/>
<circle cx="31.10" cy="440.68" r="1.70" fill="#aa3351" fill-opacity="0.82"/>
<circle cx="47.95" cy="441.29" r="1.70" fill="#3c86b7" fill-opacity="0.82"/>
<circle cx="32.43" cy="439.92" r="1.70" fill="#b03551" fill-opacity="0.82"/>
<circle cx="42.58" cy="435.62" r="1.70" fill="#d3504f" fill-opacity="0.82"/>
<circle cx="45.44" cy="436.21" r="1.70" fill="#e97655" fill-opacity="0.82"/>
<circle cx="57.88" cy="436.72" r="1.70" fill="#bbe1ad" fill-opacity="0.82"/>
<circle cx="45.08" cy="438.23" r="1.70" fill="#ce494e" fill-opacity="0.82"/>
<circle cx="49.43" cy="437.10" r="1.70" fill="#ce494e" fill-opacity="0.82"/>
<circle cx="41.45" cy="438.83" r="1.70" fill="#c03b4e" fill-opacity="0.82"/>
<circle cx="43.51" cy="438.45" r="1.70" fill="#c23b4e" fill-opacity="0.82"/>
<circle cx="34.47" cy="439.96" r="1.70" fill="#a83352" fill-opacity="0.82"/>
<circle cx="30.47" cy="439.21" r="1.70" fill="#a63252" fill-opacity="0.82"/>
<circle cx="37.85" cy="438.70" r="1.70" fill="#9a2e53" fill-opacity="0.82"/>
<circle cx="31.88" cy="441.27" r="1.70" fill="#9d2f53" fill-opacity="0.82"/>
<circle cx="53.84" cy="437.34" r="1.70" fill="#f1c48e" fill-opacity="0.82"/>
<circle cx="32.76" cy="440.74" r="1.70" fill="#d5524f" fill-opacity="0.82"/>
<circle cx="30.77" cy="443.96" r="1.70" fill="#952c54" fill-opacity="0.82"/>
<circle cx="39.89" cy="438.52" r="1.70" fill="#c7404e" fill-opacity="0.82"/>
<circle cx="55.25" cy="442.94" r="1.70" fill="#e66f53" fill-opacity="0.82"/>
<circle cx="33.09" cy="441.95" r="1.70" fill="#e56c52" fill-opacity="0.82"/>
<circle cx="41.47" cy="439.89" r="1.70" fill="#ce484e" fill-opacity="0.82"/>
<circle cx="56.88" cy="438.94" r="1.70" fill="#d6534f" fill-opacity="0.82"/>
<circle cx="39.64" cy="444.43" r="1.70" fill="#e46952" fill-opacity="0.82"/>
<circle cx="51.02" cy="444.11" r="1.70" fill="#87cfa5" fill-opacity="0.82"/>
<circle cx="39.69" cy="443.95" r="1.70" fill="#8e2a55" fill-opacity="0.82"/>
<circle cx="46.32" cy="444.51" r="1.70" fill="#9ad6a8" fill-opacity="0.82"/>
<circle cx="31.18" cy="442.52" r="1.70" fill="#a23152" fill-opacity="0.82"/>
<circle cx="47.00" cy="442.52" r="1.70" fill="#75c6a6" fill-opacity="0.82"/>
<circle cx="39.49" cy="444.09" r="1.70" fill="#4eaaaf" fill-opacity="0.82"/>
<circle cx="33.83" cy="438.81" r="1.70" fill="#c53d4e" fill-opacity="0.82"/>
<circle cx="32.32" cy="442.81" r="1.70" fill="#b03551" fill-opacity="0.82"/>
<circle cx="33.87" cy="446.51" r="1.70" fill="#d6544f" fill-opacity="0.82"/>
<circle cx="33.09" cy="445.87" r="1.70" fill="#cb454e" fill-opacity="0.82"/>
<circle cx="49.68" cy="440.57" r="1.70" fill="#ee8459" fill-opacity="0.82"/>
<circle cx="53.77" cy="443.19" r="1.70" fill="#56b3ab" fill-opacity="0.82"/>
<circle cx="40.35" cy="444.40" r="1.70" fill="#5bb8a8" fill-opacity="0.82"/>
<circle cx="57.79" cy="446.07" r="1.70" fill="#77c7a6" fill-opacity="0.82"/>
<circle cx="52.88" cy="443.68" r="1.70" fill="#7bc9a6" fill-opacity="0.82"/>
<circle cx="36.26" cy="441.59" r="1.70" fill="#d5514f" fill-opacity="0.82"/>
<circle cx="31.12" cy="443.17" r="1.70" fill="#a43152" fill-opacity="0.82"/>
<circle cx="57.02" cy="441.97" r="1.70" fill="#57b4aa" fill-opacity="0.82"/>
<circle cx="33.41" cy="447.76" r="1.70" fill="#e36751" fill-opacity="0.82"/>
<circle cx="30.12" cy="444.91" r="1.70" fill="#a63252" fill-opacity="0.82"/>
<circle cx="29.20" cy="447.43" r="1.70" fill="#8f2a55" fill-opacity="0.82"/>
<circle cx="31.59" cy="447.50" r="1.70" fill="#8e2a55" fill-opacity="0.82"/>
<circle cx="30.32" cy="445.60" r="1.70" fill="#a93351" fill-opacity="0.82"/>
<circle cx="51.42" cy="441.46" r="1.70" fill="#7ac9a6" fill-opacity="0.82"/>
<circle cx="42.85" cy="442.85" r="1.70" fill="#ec7f58" fill-opacity="0.82"/>
<circle cx="32.84" cy="447.60" r="1.70" fill="#a83352" fill-opacity="0.82"/>
<circle cx="35.01" cy="442.50" r="1.70" fill="#df5f4f" fill-opacity="0.82"/>
<circle cx="56.97" cy="440.99" r="1.70" fill="#ec7e58" fill-opacity="0.82"/>
<circle cx="34.55" cy="443.46" r="1.70" fill="#ca434e" fill-opacity="0.82"/>
<circle cx="31.87" cy="447.12" r="1.70" fill="#a03053" fill-opacity="0.82"/>
<circle cx="39.54" cy="448.77" r="1.70" fill="#8bd1a6" fill-opacity="0.82"/>
<circle cx="49.41" cy="443.34" r="1.70" fill="#82cda5" fill-opacity="0.82"/>
<circle cx="37.32" cy="447.15" r="1.70" fill="#9fd7a9" fill-opacity="0.82"/>
<circle cx="31.51" cy="444.14" r="1.70" fill="#982d54" fill-opacity="0.82"/>
<circle cx="38.60" cy="447.48" r="1.70" fill="#a3d9a9" fill-opacity="0.82"/>
<circle cx="56.12" cy="442.65" r="1.70" fill="#3e93b8" fill-opacity="0.82"/>
<circle cx="46.02" cy="445.04" r="1.70" fill="#7fcba6" fill-opacity="0.82"/>
<circle cx="29.37" cy="448.43" r="1.70" fill="#a33152" fill-opacity="0.82"/>
<circle cx="29.29" cy="445.91" r="1.70" fill="#9a2e53" fill-opacity="0.82"/>
<circle cx="56.59" cy="442.55" r="1.70" fill="#3b7eb6" fill-opacity="0.82"/>
<circle cx="29.94" cy="445.61" r="1.70" fill="#af3551" fill-opacity="0.82"/>
<circle cx="35.72" cy="446.84" r="1.70" fill="#ef855a" fill-opacity="0.82"/>
<circle cx="34.78" cy="449.48" r="1.70" fill="#e56d53" fill-opacity="0.82"/>
<circle cx="47.71" cy="442.74" r="1.70" fill="#429db6" fill-opacity="0.82"/>
<circle cx="30.19" cy="448.57" r="1.70" fill="#972d54" fill-opacity="0.82"/>
<circle cx="58.18" cy="449.19" r="1.70" fill="#76c7a6" fill-opacity="0.82"/>
<circle cx="32.86" cy="449.24" r="1.70" fill="#d7554f" fill-opacity="0.82"/>
<circle cx="31.82" cy="447.92" r="1.70" fill="#932c54" fill-opacity="0.82"/>
<circle cx="37.94" cy="448.84" r="1.70" fill="#7ccaa6" fill-opacity="0.82"/>
<circle cx="49.47" cy="449.22" r="1.70" fill="#d14d4e" fill-opacity="0.82"/>
<circle cx="30.26" cy="448.99" r="1.70" fill="#9e2f53" fill-opacity="0.82"/>
<circle cx="33.35" cy="447.27" r="1.70" fill="#d04c4e" fill-opacity="0.82"/>
<circle cx="44.50" cy="447.07" r="1.70" fill="#db594f" fill-opacity="0.82"/>
<circle cx="45.90" cy="449.54" r="1.70" fill="#72c4a6" fill-opacity="0.82"/>
<circle cx="48.35" cy="444.52" r="1.70" fill="#84cea5" fill-opacity="0.82"/>
<circle cx="32.87" cy="449.53" r="1.70" fill="#d04b4e" fill-opacity="0.82"/>
<circle cx="41.36" cy="449.51" r="1.70" fill="#89d0a5" fill-opacity="0.82"/>
<circle cx="29.80" cy="447.56" r="1.70" fill="#a63252" fill-opacity="0.82"/>
<circle cx="35.68" cy="443.93" r="1.70" fill="#ef865a" fill-opacity="0.82"/>
<circle cx="44.30" cy="449.40" r="1.70" fill="#de5e4f" fill-opacity="0.82"/>
<circle cx="37.66" cy="446.50" r="1.70" fill="#7fcba6" fill-opacity="0.82"/>
<circle cx="43.63" cy="447.48" r="1.70" fill="#d4514f" fill-opacity="0.82"/>
<circle cx="36.86" cy="444.77" r="1.70" fill="#67bfa7" fill-opacity="0.82"/>
<circle cx="33.86" cy="449.31" r="1.70" fill="#cb454e" fill-opacity="0.82"/>
<circle cx="29.96" cy="447.83" r="1.70" fill="#a63252" fill-opacity="0.82"/>
<circle cx="55.32" cy="447.11" r="1.70" fill="#3e98b8" fill-opacity="0.82"/>
<circle cx="35.35" cy="448.68" r="1.70" fill="#e66f53" fill-opacity="0.82"/>
<circle cx="51.68" cy="448.81" r="1.70" fill="#55b1ab" fill-opacity="0.82"/>
<circle cx="30.40" cy="447.06" r="1.70" fill="#982d54" fill-opacity="0.82"/>
<circle cx="50.48" cy="448.72" r="1.70" fill="#76c7a6" fill-opacity="0.82"/>
<circle cx="44.25" cy="448.01" r="1.70" fill="#52afad" fill-opacity="0.82"/>
<circle cx="54.45" cy="448.92" r="1.70" fill="#6ac0a7" fill-opacity="0.82"/>
<circle cx="29.41" cy="447.63" r="1.70" fill="#ab3451" fill-opacity="0.82"/>
<circle cx="57.94" cy="447.00" r="1.70" fill="#eb7b57" fill-opacity="0.82"/>
<circle cx="34.48" cy="448.77" r="1.70" fill="#e56d53" fill-opacity="0.82"/>
<circle cx="49.27" cy="446.53" r="1.70" fill="#a1d8a9" fill-opacity="0.82"/>
<circle cx="30.22" cy="447.22" r="1.70" fill="#9b2e53" fill-opacity="0.82"/>
<circle cx="33.78" cy="449.43" r="1.70" fill="#cf4b4e" fill-opacity="0.82"/>
<circle cx="32.53" cy="449.05" r="1.70" fill="#c9424e" fill-opacity="0.82"/>
<circle cx="40.59" cy="449.39" r="1.70" fill="#ca444e" fill-opacity="0.82"/>
<circle cx="49.43" cy="448.07" r="1.70" fill="#3c85b7" fill-opacity="0.82"/>
<circle cx="54.30" cy="446.33" r="1.70" fill="#4da8b0" fill-opacity="0.82"/>
<circle cx="44.89" cy="448.25" r="1.70" fill="#6ec2a7" fill-opacity="0.82"/>
<circle cx="30.62" cy="446.51" r="1.70" fill="#a13053" fill-opacity="0.82"/>
<circle cx="43.23" cy="447.67" r="1.70" fill="#ec7e57" fill-opacity="0.82"/>
<circle cx="33.97" cy="447.10" r="1.70" fill="#d14d4e" fill-opacity="0.82"/>
<circle cx="32.29" cy="449.56" r="1.70" fill="#ad3451" fill-opacity="0.82"/>
<circle cx="35.55" cy="448.88" r="1.70" fill="#d7554f" fill-opacity="0.82"/>
<circle cx="55.47" cy="448.86" r="1.70" fill="#9bd6a8" fill-opacity="0.82"/>
<circle cx="37.06" cy="448.15" r="1.70" fill="#d8554f" fill-opacity="0.82"/>
<circle cx="31.46" cy="448.08" r="1.70" fill="#a03053" fill-opacity="0.82"/>
<circle cx="46.94" cy="449.49" r="1.70" fill="#6ec2a7" fill-opacity="0.82"/>
<circle cx="45.49" cy="448.30" r="1.70" fill="#e26450" fill-opacity="0.82"/>
<circle cx="35.17" cy="448.93" r="1.70" fill="#e1614f" fill-opacity="0.82"/>
<circle cx="38.36" cy="449.52" r="1.70" fill="#71c4a6" fill-opacity="0.82"/>
<circle cx="44.16" cy="449.53" r="1.70" fill="#52aead" fill-opacity="0.82"/>
<circle cx="54.83" cy="449.41" r="1.70" fill="#3e97b8" fill-opacity="0.82"/>
<circle cx="31.82" cy="449.54" r="1.70" fill="#ad3451" fill-opacity="0.82"/>
<circle cx="61.90" cy="405.80" r="1.75" fill="#c43c4e" fill-opacity="0.9"/>
<circle cx="64.50" cy="404.70" r="1.75" fill="#b9384f" fill-opacity="0.9"/>
<circle cx="75.40" cy="405.80" r="1.75" fill="#a5daaa" fill-opacity="0.9"/>
<circle cx="68.10" cy="410.90" r="1.75" fill="#da594f" fill-opacity="0.9"/>
<circle cx="67.80" cy="414.60" r="1.75" fill="#a93352" fill-opacity="0.9"/>
<circle cx="76.40" cy="417.20" r="1.75" fill="#3b7bb6" fill-opacity="0.9"/>
<circle cx="50.50" cy="414.60" r="1.75" fill="#92d3a7" fill-opacity="0.9"/>
<circle cx="61.90" cy="419.70" r="1.75" fill="#64bda7" fill-opacity="0.9"/>
<circle cx="65.50" cy="422.30" r="1.75" fill="#92d3a7" fill-opacity="0.9"/>
<circle cx="53.10" cy="421.80" r="1.75" fill="#9e2f53" fill-opacity="0.9"/>
<circle cx="64.50" cy="426.00" r="1.75" fill="#c43c4e" fill-opacity="0.9"/>
<circle cx="70.70" cy="424.40" r="1.75" fill="#d24e4e" fill-opacity="0.9"/>
<circle cx="73.30" cy="423.90" r="1.75" fill="#cf4a4e" fill-opacity="0.9"/>
<circle cx="76.70" cy="426.00" r="1.75" fill="#c43c4e" fill-opacity="0.9"/>
<circle cx="68.10" cy="431.10" r="1.75" fill="#b43750" fill-opacity="0.9"/>
<circle cx="73.30" cy="430.90" r="1.75" fill="#c43c4e" fill-opacity="0.9"/>
<circle cx="80.00" cy="432.20" r="1.75" fill="#ee8559" fill-opacity="0.9"/>
<circle cx="56.20" cy="430.10" r="1.75" fill="#e46952" fill-opacity="0.9"/>
<circle cx="53.10" cy="429.60" r="1.75" fill="#d24e4e" fill-opacity="0.9"/>
<circle cx="60.90" cy="436.30" r="1.75" fill="#e0604f" fill-opacity="0.9"/>
<circle cx="63.50" cy="437.90" r="1.75" fill="#e77254" fill-opacity="0.9"/>
<circle cx="68.60" cy="436.30" r="1.75" fill="#ee8559" fill-opacity="0.9"/>
<circle cx="56.20" cy="439.40" r="1.75" fill="#ca434e" fill-opacity="0.9"/>
<circle cx="75.90" cy="439.40" r="1.75" fill="#5bb8a8" fill-opacity="0.9"/>
<circle cx="71.20" cy="442.00" r="1.75" fill="#7dcaa6" fill-opacity="0.9"/>
<circle cx="60.40" cy="442.50" r="1.75" fill="#5bb8a8" fill-opacity="0.9"/>
<circle cx="67.10" cy="444.60" r="1.75" fill="#55b2ab" fill-opacity="0.9"/>
<circle cx="61.90" cy="448.70" r="1.75" fill="#3b77b6" fill-opacity="0.9"/>
<circle cx="73.80" cy="449.20" r="1.75" fill="#5455a8" fill-opacity="0.9"/>
<circle cx="58.30" cy="445.60" r="1.75" fill="#3e98b8" fill-opacity="0.9"/>
<circle cx="64.00" cy="447.00" r="1.75" fill="#449eb5" fill-opacity="0.9"/>
<circle cx="69.50" cy="447.50" r="1.75" fill="#3c84b6" fill-opacity="0.9"/>
<circle cx="38.20" cy="388.50" r="1.75" fill="#f6b681" fill-opacity="0.92"/>
<circle cx="41.80" cy="391.00" r="1.75" fill="#ca434e" fill-opacity="0.92"/>
<circle cx="49.20" cy="391.50" r="1.75" fill="#f39865" fill-opacity="0.92"/>
<circle cx="47.70" cy="395.40" r="1.75" fill="#d5524f" fill-opacity="0.92"/>
<circle cx="44.60" cy="397.20" r="1.75" fill="#8e2a55" fill-opacity="0.92"/>
<circle cx="44.00" cy="396.00" r="1.75" fill="#a93352" fill-opacity="0.92"/>
<circle cx="54.60" cy="400.50" r="1.75" fill="#cf4a4e" fill-opacity="0.92"/>
<circle cx="86.50" cy="415.70" r="1.75" fill="#d8554f" fill-opacity="0.92"/>
<circle cx="98.20" cy="420.80" r="1.75" fill="#92d3a7" fill-opacity="0.92"/>
<circle cx="86.00" cy="423.80" r="1.75" fill="#a5daaa" fill-opacity="0.92"/>
<circle cx="88.00" cy="428.50" r="1.75" fill="#86cfa5" fill-opacity="0.92"/>
<circle cx="90.00" cy="430.00" r="1.75" fill="#9fd7a9" fill-opacity="0.92"/>
<circle cx="89.20" cy="440.00" r="1.75" fill="#d24e4e" fill-opacity="0.92"/>
<circle cx="93.00" cy="442.30" r="1.75" fill="#4a5fad" fill-opacity="0.92"/>
<circle cx="89.20" cy="446.20" r="1.75" fill="#4ca8b0" fill-opacity="0.92"/>
<circle cx="39.60" cy="311.50" r="1.80" fill="#8a4458"/>
<text x="39.70" y="307.80" font-size="3.9" text-anchor="middle" fill="#333" stroke="#333" stroke-width="0.12">FLT3</text>
<circle cx="45.20" cy="318.70" r="1.80" fill="#8a4458"/>
<text x="43.60" y="315.20" font-size="3.9" fill="#333" stroke="#333" stroke-width="0.12">CASR</text>
<circle cx="55.40" cy="338.50" r="1.80" fill="#7e3a4e"/>
<text x="50.20" y="335.00" font-size="3.9" text-anchor="middle" fill="#333" stroke="#333" stroke-width="0.12">CD79B</text>
<circle cx="76.70" cy="300.10" r="1.80" fill="#b89482"/>
<text x="77.00" y="296.50" font-size="3.9" text-anchor="middle" fill="#333" stroke="#333" stroke-width="0.12">CDC25C</text>
<circle cx="73.00" cy="335.80" r="1.80" fill="#c49a7c"/>
<text x="73.00" y="332.30" font-size="3.9" text-anchor="middle" fill="#333" stroke="#333" stroke-width="0.12">CTNNB1</text>
<circle cx="43.00" cy="362.60" r="1.80" fill="#cfcfcf"/>
<text x="43.60" y="359.20" font-size="3.9" text-anchor="middle" fill="#333" stroke="#333" stroke-width="0.12">NOS1</text>
<circle cx="145.80" cy="307.60" r="1.80" fill="#d8907a"/>
<text x="146.20" y="305.20" font-size="3.9" text-anchor="middle" fill="#333" stroke="#333" stroke-width="0.12">TP53</text>
<circle cx="219.40" cy="434.60" r="1.80" fill="#d8a078"/>
<text x="219.80" y="431.20" font-size="3.9" text-anchor="middle" fill="#333" stroke="#333" stroke-width="0.12">MAPT</text>
<circle cx="134.00" cy="442.00" r="1.40" fill="#a8d8c0" fill-opacity="0.8"/>
<circle cx="134.80" cy="442.90" r="1.40" fill="#a8d8c0" fill-opacity="0.8"/>
<circle cx="135.60" cy="443.60" r="1.40" fill="#a8d8c0" fill-opacity="0.8"/>
<circle cx="133.60" cy="441.20" r="1.40" fill="#a8d8c0" fill-opacity="0.8"/>
<text x="128.00" y="438.20" font-size="3.9" fill="#2a2a2a" stroke="#2a2a2a" stroke-width="0.12">GAB1</text>
<text x="128.00" y="449.20" font-size="3.9" fill="#2a2a2a" stroke="#2a2a2a" stroke-width="0.12">IRS1</text>
<rect x="35.4" y="384.3" width="22.3" height="19.5" fill="none" stroke="#888" stroke-width="0.5"/>
<rect x="79.4" y="412.4" width="20.9" height="37.1" fill="none" stroke="#888" stroke-width="0.5"/>
<line x1="47.00" y1="384.30" x2="87.50" y2="357.50" stroke="#444" stroke-width="0.5"/>
<line x1="90.00" y1="412.40" x2="127.20" y2="387.90" stroke="#444" stroke-width="0.5"/>
<text x="88.90" y="342.80" font-size="5.0" fill="#222" stroke="#222" stroke-width="0.12">APC</text>
<text x="88.90" y="348.13" font-size="5.0" fill="#222" stroke="#222" stroke-width="0.12">WT1</text>
<text x="88.90" y="353.46" font-size="5.0" fill="#222" stroke="#222" stroke-width="0.12">MYC</text>
<text x="88.90" y="358.79" font-size="5.0" fill="#222" stroke="#222" stroke-width="0.12">ELK1</text>
<text x="88.90" y="364.12" font-size="5.0" fill="#222" stroke="#222" stroke-width="0.12">BRAF</text>
<text x="88.90" y="369.45" font-size="5.0" fill="#222" stroke="#222" stroke-width="0.12">DAPP1</text>
<text x="88.90" y="374.78" font-size="5.0" fill="#222" stroke="#222" stroke-width="0.12">SPP1</text>
<text x="88.90" y="380.11" font-size="5.0" fill="#222" stroke="#222" stroke-width="0.12">PTEN</text>
<text x="88.90" y="385.44" font-size="5.0" fill="#222" stroke="#222" stroke-width="0.12">ETV1</text>
<text x="88.90" y="390.77" font-size="5.0" fill="#222" stroke="#222" stroke-width="0.12">BOKRB2</text>
<text x="127.90" y="352.80" font-size="5.0" fill="#222" stroke="#222" stroke-width="0.12">EEF2K</text>
<text x="127.90" y="358.18" font-size="5.0" fill="#222" stroke="#222" stroke-width="0.12">BAD</text>
<text x="127.90" y="363.56" font-size="5.0" fill="#222" stroke="#222" stroke-width="0.12">GRIN2B</text>
<text x="127.90" y="368.94" font-size="5.0" fill="#222" stroke="#222" stroke-width="0.12">CHAT</text>
<text x="127.90" y="374.32" font-size="5.0" fill="#222" stroke="#222" stroke-width="0.12">EGFR</text>
<text x="127.90" y="379.70" font-size="5.0" fill="#222" stroke="#222" stroke-width="0.12">NFKBIA</text>
<text x="127.90" y="385.08" font-size="5.0" fill="#222" stroke="#222" stroke-width="0.12">PTPN1</text>
<text x="127.90" y="390.46" font-size="5.0" fill="#222" stroke="#222" stroke-width="0.12">RB1</text>
<text x="127.90" y="395.84" font-size="5.0" fill="#222" stroke="#222" stroke-width="0.12">RAF1</text>
<text x="127.90" y="401.22" font-size="5.0" fill="#222" stroke="#222" stroke-width="0.12">SMAD3</text>
<text x="127.90" y="406.60" font-size="5.0" fill="#222" stroke="#222" stroke-width="0.12">CHEK2</text>
<text x="127.90" y="411.98" font-size="5.0" fill="#222" stroke="#222" stroke-width="0.12">BRCA1</text>
<text x="127.90" y="417.36" font-size="5.0" fill="#222" stroke="#222" stroke-width="0.12">EIF4EBP1</text>
<text x="127.90" y="422.74" font-size="5.0" fill="#222" stroke="#222" stroke-width="0.12">VIM</text>
<line x1="156.00" y1="315.20" x2="151.30" y2="312.20" stroke="#444" stroke-width="0.6"/>
<polygon points="150,311.3 152.8,311.6 151.4,313.6" fill="#2a2a2a"/>
<text x="157.20" y="316.60" font-size="4.5" font-style="italic" fill="#333" textLength="49.8" lengthAdjust="spacingAndGlyphs" stroke="#333" stroke-width="0.12">x-axis: 43 distinct HPR's;</text>
<text x="157.20" y="322.30" font-size="4.5" font-style="italic" fill="#333" textLength="61.3" lengthAdjust="spacingAndGlyphs" stroke="#333" stroke-width="0.12">y-axis: average of 32.5 distinct</text>
<text x="157.20" y="327.50" font-size="4.5" font-style="italic" fill="#333" textLength="31.8" lengthAdjust="spacingAndGlyphs" stroke="#333" stroke-width="0.12">variants per HPR;</text>
<text x="157.20" y="333.20" font-size="4.5" font-style="italic" fill="#333" textLength="59.3" lengthAdjust="spacingAndGlyphs" stroke="#333" stroke-width="0.12">Color code: average of 80.7%</text>
<text x="157.20" y="338.60" font-size="4.5" font-style="italic" fill="#333" textLength="49.8" lengthAdjust="spacingAndGlyphs" stroke="#333" stroke-width="0.12">of variants result in non-</text>
<text x="157.20" y="343.50" font-size="4.5" font-style="italic" fill="#333" textLength="41.6" lengthAdjust="spacingAndGlyphs" stroke="#333" stroke-width="0.12">synonymous variants</text>
<text x="231.00" y="292.70" font-size="4.6" fill="#333" textLength="25.5" lengthAdjust="spacingAndGlyphs" stroke="#333" stroke-width="0.12">mean % non-</text>
<text x="231.00" y="298.20" font-size="4.6" fill="#333" textLength="25.2" lengthAdjust="spacingAndGlyphs" stroke="#333" stroke-width="0.12">synonymous</text>
<text x="231.00" y="303.20" font-size="4.6" fill="#333" textLength="32.8" lengthAdjust="spacingAndGlyphs" stroke="#333" stroke-width="0.12">variants per HPR</text>
<text x="231.00" y="308.90" font-size="4.6" fill="#333" textLength="26.3" lengthAdjust="spacingAndGlyphs" stroke="#333" stroke-width="0.12">per substrate</text>
<defs><linearGradient id="cb" x1="0" y1="1" x2="0" y2="0"><stop offset="0.0" stop-color="#5a4fa5"/><stop offset="0.1" stop-color="#3a6fb5"/><stop offset="0.2" stop-color="#3e98b8"/><stop offset="0.3" stop-color="#5bb8a8"/><stop offset="0.4" stop-color="#86cfa5"/><stop offset="0.5" stop-color="#c4e4ae"/><stop offset="0.6" stop-color="#f7c08a"/><stop offset="0.7" stop-color="#f28e5c"/><stop offset="0.8" stop-color="#e0604f"/><stop offset="0.9" stop-color="#c43c4e"/><stop offset="1.0" stop-color="#8e2a55"/></linearGradient></defs>
<rect x="231.10" y="318.50" width="6.50" height="86.20" fill="url(#cb)"/>
<line x1="230.80" y1="318.80" x2="237.60" y2="318.80" stroke="#333" stroke-width="0.5"/>
<text x="239.20" y="320.20" font-size="4.0" fill="#333" stroke="#333" stroke-width="0.12">100%</text>
<line x1="230.80" y1="362.00" x2="237.60" y2="362.00" stroke="#333" stroke-width="0.5"/>
<text x="239.20" y="363.40" font-size="4.0" fill="#333" stroke="#333" stroke-width="0.12">50%</text>
<line x1="230.80" y1="404.30" x2="237.60" y2="404.30" stroke="#333" stroke-width="0.5"/>
<text x="239.20" y="405.70" font-size="4.0" fill="#333" stroke="#333" stroke-width="0.12">0%</text>
<rect x="20.1" y="463.5" width="209.4" height="20.9" fill="none" stroke="#555" stroke-width="0.6"/>
<line x1="18.30" y1="473.90" x2="20.10" y2="473.90" stroke="#333" stroke-width="0.8"/>
<text x="16.00" y="475.20" font-size="3.8" text-anchor="end" fill="#2a2a2a" stroke="#2a2a2a" stroke-width="0.12">0</text>
<line x1="32.30" y1="484.40" x2="32.30" y2="486.80" stroke="#333" stroke-width="0.8"/>
<line x1="86.50" y1="484.40" x2="86.50" y2="486.80" stroke="#333" stroke-width="0.8"/>
<line x1="140.40" y1="484.40" x2="140.40" y2="486.80" stroke="#333" stroke-width="0.8"/>
<line x1="194.50" y1="484.40" x2="194.50" y2="486.80" stroke="#333" stroke-width="0.8"/>
<text x="32.30" y="491.80" font-size="4.5" text-anchor="middle" fill="#2a2a2a" stroke="#2a2a2a" stroke-width="0.12">1</text>
<text x="86.50" y="491.80" font-size="4.5" text-anchor="middle" fill="#2a2a2a" stroke="#2a2a2a" stroke-width="0.12">20</text>
<text x="140.40" y="491.80" font-size="4.5" text-anchor="middle" fill="#2a2a2a" stroke="#2a2a2a" stroke-width="0.12">40</text>
<text x="194.50" y="491.80" font-size="4.5" text-anchor="middle" fill="#2a2a2a" stroke="#2a2a2a" stroke-width="0.12">60</text>
<text x="80.80" y="499.40" font-size="5.4" fill="#2a2a2a" textLength="65.8" lengthAdjust="spacingAndGlyphs" stroke="#2a2a2a" stroke-width="0.12">Number of HPR per protein</text>
<rect x="28.8" y="467.6" width="19.2" height="13.8" rx="2.5" fill="#6460ad"/>
<circle cx="52.08" cy="473.58" r="1.20" fill="#6460ad"/>
<circle cx="49.68" cy="476.46" r="1.20" fill="#6460ad"/>
<circle cx="47.02" cy="477.85" r="1.20" fill="#6460ad"/>
<circle cx="53.96" cy="474.27" r="1.20" fill="#6460ad"/>
<circle cx="57.08" cy="472.71" r="1.20" fill="#6460ad"/>
<circle cx="48.05" cy="472.30" r="1.20" fill="#6460ad"/>
<circle cx="46.59" cy="472.21" r="1.20" fill="#6460ad"/>
<circle cx="54.70" cy="474.15" r="1.20" fill="#6460ad"/>
<circle cx="49.71" cy="474.73" r="1.20" fill="#6460ad"/>
<circle cx="47.24" cy="476.99" r="1.20" fill="#6460ad"/>
<circle cx="48.40" cy="471.84" r="1.20" fill="#6460ad"/>
<circle cx="48.24" cy="475.70" r="1.20" fill="#6460ad"/>
<circle cx="57.63" cy="475.34" r="1.20" fill="#6460ad"/>
<circle cx="46.86" cy="473.15" r="1.20" fill="#6460ad"/>
<circle cx="51.10" cy="471.84" r="1.20" fill="#6460ad"/>
<circle cx="59.59" cy="472.27" r="1.20" fill="#6460ad"/>
<circle cx="52.85" cy="475.78" r="1.20" fill="#6460ad"/>
<circle cx="59.81" cy="472.69" r="1.20" fill="#6460ad"/>
<circle cx="52.37" cy="475.72" r="1.20" fill="#6460ad"/>
<circle cx="46.55" cy="471.50" r="1.20" fill="#6460ad"/>
<circle cx="58.46" cy="472.46" r="1.20" fill="#6460ad"/>
<circle cx="51.50" cy="472.50" r="1.20" fill="#6460ad"/>
<circle cx="51.94" cy="470.94" r="1.20" fill="#6460ad"/>
<circle cx="46.48" cy="478.80" r="1.20" fill="#6460ad"/>
<circle cx="56.69" cy="475.19" r="1.20" fill="#6460ad"/>
<circle cx="49.22" cy="471.91" r="1.20" fill="#6460ad"/>
<circle cx="53.73" cy="472.34" r="1.20" fill="#6460ad"/>
<circle cx="52.46" cy="477.02" r="1.20" fill="#6460ad"/>
<circle cx="51.10" cy="472.76" r="1.20" fill="#6460ad"/>
<circle cx="59.74" cy="474.41" r="1.20" fill="#6460ad"/>
<circle cx="46.56" cy="473.06" r="1.20" fill="#6460ad"/>
<circle cx="55.10" cy="471.44" r="1.20" fill="#6460ad"/>
<circle cx="50.80" cy="475.51" r="1.20" fill="#6460ad"/>
<circle cx="58.10" cy="474.40" r="1.20" fill="#6460ad"/>
<circle cx="58.41" cy="473.84" r="1.20" fill="#6460ad"/>
<circle cx="51.50" cy="476.55" r="1.20" fill="#6460ad"/>
<circle cx="51.34" cy="476.11" r="1.20" fill="#6460ad"/>
<circle cx="49.02" cy="472.70" r="1.20" fill="#6460ad"/>
<circle cx="48.57" cy="474.43" r="1.20" fill="#6460ad"/>
<circle cx="48.29" cy="471.37" r="1.20" fill="#6460ad"/>
<circle cx="49.00" cy="473.72" r="1.20" fill="#6460ad"/>
<circle cx="50.32" cy="473.58" r="1.20" fill="#6460ad"/>
<circle cx="59.91" cy="474.65" r="1.20" fill="#6460ad"/>
<circle cx="58.08" cy="472.68" r="1.20" fill="#6460ad"/>
<circle cx="51.36" cy="470.80" r="1.20" fill="#6460ad"/>
<circle cx="55.68" cy="473.24" r="1.20" fill="#6460ad"/>
<circle cx="49.84" cy="470.07" r="1.20" fill="#6460ad"/>
<circle cx="48.55" cy="471.92" r="1.20" fill="#6460ad"/>
<circle cx="51.50" cy="477.14" r="1.20" fill="#6460ad"/>
<circle cx="56.01" cy="472.75" r="1.20" fill="#6460ad"/>
<circle cx="51.06" cy="471.36" r="1.20" fill="#6460ad"/>
<circle cx="59.11" cy="473.44" r="1.20" fill="#6460ad"/>
<circle cx="56.72" cy="475.13" r="1.20" fill="#6460ad"/>
<circle cx="58.70" cy="471.99" r="1.20" fill="#6460ad"/>
<circle cx="50.51" cy="473.09" r="1.20" fill="#6460ad"/>
<circle cx="47.16" cy="477.59" r="1.20" fill="#6460ad"/>
<circle cx="50.55" cy="476.13" r="1.20" fill="#6460ad"/>
<circle cx="53.27" cy="471.05" r="1.20" fill="#6460ad"/>
<circle cx="51.52" cy="472.06" r="1.20" fill="#6460ad"/>
<circle cx="46.57" cy="470.63" r="1.20" fill="#6460ad"/>
<circle cx="40.23" cy="467.25" r="1.00" fill="#6460ad"/>
<circle cx="36.69" cy="481.45" r="1.00" fill="#6460ad"/>
<circle cx="31.41" cy="481.18" r="1.00" fill="#6460ad"/>
<circle cx="37.47" cy="480.98" r="1.00" fill="#6460ad"/>
<circle cx="32.73" cy="481.44" r="1.00" fill="#6460ad"/>
<circle cx="37.43" cy="467.46" r="1.00" fill="#6460ad"/>
<circle cx="45.43" cy="467.12" r="1.00" fill="#6460ad"/>
<circle cx="35.91" cy="467.17" r="1.00" fill="#6460ad"/>
<circle cx="45.09" cy="481.48" r="1.00" fill="#6460ad"/>
<circle cx="44.33" cy="481.59" r="1.00" fill="#6460ad"/>
<circle cx="30.08" cy="467.67" r="1.00" fill="#6460ad"/>
<circle cx="35.58" cy="468.15" r="1.00" fill="#6460ad"/>
<circle cx="45.47" cy="467.94" r="1.00" fill="#6460ad"/>
<circle cx="33.78" cy="480.94" r="1.00" fill="#6460ad"/>
<circle cx="38.26" cy="481.26" r="1.00" fill="#6460ad"/>
<circle cx="35.10" cy="481.64" r="1.00" fill="#6460ad"/>
<circle cx="33.06" cy="481.04" r="1.00" fill="#6460ad"/>
<circle cx="43.55" cy="481.60" r="1.00" fill="#6460ad"/>
<circle cx="33.40" cy="467.89" r="1.00" fill="#6460ad"/>
<circle cx="46.22" cy="467.57" r="1.00" fill="#6460ad"/>
<circle cx="33.73" cy="481.64" r="1.00" fill="#6460ad"/>
<circle cx="29.24" cy="480.94" r="1.00" fill="#6460ad"/>
<circle cx="46.27" cy="481.13" r="1.00" fill="#6460ad"/>
<circle cx="36.04" cy="481.36" r="1.00" fill="#6460ad"/>
<circle cx="35.05" cy="480.89" r="1.00" fill="#6460ad"/>
<circle cx="29.48" cy="481.87" r="1.00" fill="#6460ad"/>
<circle cx="39.66" cy="481.78" r="1.00" fill="#6460ad"/>
<circle cx="45.83" cy="481.26" r="1.00" fill="#6460ad"/>
<circle cx="35.36" cy="480.84" r="1.00" fill="#6460ad"/>
<circle cx="42.38" cy="467.93" r="1.00" fill="#6460ad"/>
<circle cx="40.84" cy="481.54" r="1.00" fill="#6460ad"/>
<circle cx="30.02" cy="468.00" r="1.00" fill="#6460ad"/>
<circle cx="45.69" cy="481.96" r="1.00" fill="#6460ad"/>
<circle cx="36.19" cy="467.82" r="1.00" fill="#6460ad"/>
<circle cx="34.04" cy="481.23" r="1.00" fill="#6460ad"/>
<circle cx="47.56" cy="467.73" r="1.00" fill="#6460ad"/>
<circle cx="33.98" cy="481.62" r="1.00" fill="#6460ad"/>
<circle cx="33.30" cy="468.11" r="1.00" fill="#6460ad"/>
<circle cx="47.61" cy="467.29" r="1.00" fill="#6460ad"/>
<circle cx="38.28" cy="467.75" r="1.00" fill="#6460ad"/>
<rect x="49.4" y="467.1" width="13.1" height="13.4" fill="none" stroke="#aaa" stroke-width="0.4"/>
<line x1="56.00" y1="480.50" x2="41.30" y2="501.40" stroke="#333" stroke-width="0.5"/>
<circle cx="66.30" cy="474.20" r="1.60" fill="#6460ad"/>
<text x="68.80" y="472.20" font-size="3.9" fill="#2a2a2a" stroke="#2a2a2a" stroke-width="0.12">CREB1</text>
<text x="68.80" y="477.90" font-size="3.9" fill="#2a2a2a" stroke="#2a2a2a" stroke-width="0.12">STAT1</text>
<circle cx="102.30" cy="474.00" r="1.60" fill="#6460ad"/>
<text x="105.20" y="475.40" font-size="3.8" fill="#2a2a2a" stroke="#2a2a2a" stroke-width="0.12">IKBKB</text>
<text x="225.20" y="470.80" font-size="4.7" text-anchor="end" fill="#333" stroke="#333" stroke-width="0.12">substrates with target</text>
<text x="225.20" y="476.00" font-size="4.7" text-anchor="end" fill="#333" stroke="#333" stroke-width="0.12">sites containing no</text>
<text x="225.20" y="481.20" font-size="4.7" text-anchor="end" fill="#333" stroke="#333" stroke-width="0.12">reported variants</text>
<text x="19.60" y="504.30" font-size="4.7" font-weight="bold" fill="#111" textLength="33.4" lengthAdjust="spacingAndGlyphs">CDK1; GSK3A;</text>
<text x="19.60" y="509.40" font-size="4.7" font-weight="bold" fill="#111" textLength="40.4" lengthAdjust="spacingAndGlyphs">HMGA1; PPP1R2;</text>
<text x="19.6" y="514.6" font-size="4.7" font-weight="bold" fill="#111">ATF1; CHUK; MTOR; TCF7L2; <tspan font-size="4.0">ADRA1B;</tspan></text>
<text x="19.60" y="519.90" font-size="4.0" font-weight="bold" fill="#111" textLength="103.9" lengthAdjust="spacingAndGlyphs">ADRA2A; CDK6; CFL1; DNM1; EIF2S1; PEBP1; RGS19</text>
<text x="286.60" y="283.20" font-size="12.4" font-weight="bold" fill="#111" stroke="#111" stroke-width="0.35" textLength="7.4" lengthAdjust="spacingAndGlyphs">H</text>
<line x1="308.80" y1="292.50" x2="308.80" y2="456.60" stroke="#555" stroke-width="0.7"/>
<line x1="308.50" y1="456.30" x2="515.50" y2="456.30" stroke="#555" stroke-width="0.7"/>
<line x1="307.20" y1="297.00" x2="308.80" y2="297.00" stroke="#333" stroke-width="0.8"/>
<text x="305.20" y="298.30" font-size="3.8" text-anchor="end" fill="#2a2a2a" stroke="#2a2a2a" stroke-width="0.12">120</text>
<line x1="307.20" y1="334.50" x2="308.80" y2="334.50" stroke="#333" stroke-width="0.8"/>
<text x="305.20" y="335.80" font-size="3.8" text-anchor="end" fill="#2a2a2a" stroke="#2a2a2a" stroke-width="0.12">90</text>
<line x1="307.20" y1="372.00" x2="308.80" y2="372.00" stroke="#333" stroke-width="0.8"/>
<text x="305.20" y="373.30" font-size="3.8" text-anchor="end" fill="#2a2a2a" stroke="#2a2a2a" stroke-width="0.12">60</text>
<line x1="307.20" y1="409.50" x2="308.80" y2="409.50" stroke="#333" stroke-width="0.8"/>
<text x="305.20" y="410.80" font-size="3.8" text-anchor="end" fill="#2a2a2a" stroke="#2a2a2a" stroke-width="0.12">30</text>
<line x1="307.20" y1="447.00" x2="308.80" y2="447.00" stroke="#333" stroke-width="0.8"/>
<text x="305.20" y="448.30" font-size="3.8" text-anchor="end" fill="#2a2a2a" stroke="#2a2a2a" stroke-width="0.12">0</text>
<text x="0" y="0" font-size="5.2" fill="#333" text-anchor="middle" transform="translate(293.0,372.0) rotate(-90)" textLength="82" lengthAdjust="spacingAndGlyphs">Total number of variants per HPR</text>
<polygon points="311.65,430.11 316.95,430.11 314.30,425.49" fill="#b9505a" fill-opacity="0.9"/>
<polygon points="311.65,440.51 316.95,440.51 314.30,435.89" fill="#6e4a80" fill-opacity="0.9"/>
<polygon points="311.65,443.31 316.95,443.31 314.30,438.69" fill="#c4a888" fill-opacity="0.9"/>
<polygon points="311.65,445.81 316.95,445.81 314.30,441.19" fill="#a8d6b4" fill-opacity="0.9"/>
<polygon points="318.77,422.41 324.07,422.41 321.42,417.79" fill="#b9505a" fill-opacity="0.9"/>
<polygon points="318.77,424.01 324.07,424.01 321.42,419.39" fill="#d9786e" fill-opacity="0.9"/>
<polygon points="325.89,423.61 331.19,423.61 328.54,418.99" fill="#d9786e" fill-opacity="0.9"/>
<polygon points="325.89,439.71 331.19,439.71 328.54,435.09" fill="#8a3d55" fill-opacity="0.9"/>
<polygon points="325.89,444.31 331.19,444.31 328.54,439.69" fill="#5e5aa8" fill-opacity="0.9"/>
<polygon points="333.00,433.61 338.30,433.61 335.65,428.99" fill="#a8d6b4" fill-opacity="0.9"/>
<polygon points="333.00,440.51 338.30,440.51 335.65,435.89" fill="#c4a888" fill-opacity="0.9"/>
<polygon points="333.00,442.01 338.30,442.01 335.65,437.39" fill="#b8b080" fill-opacity="0.9"/>
<polygon points="340.12,429.51 345.42,429.51 342.77,424.89" fill="#d9786e" fill-opacity="0.9"/>
<polygon points="340.12,435.91 345.42,435.91 342.77,431.29" fill="#8a3d55" fill-opacity="0.9"/>
<polygon points="340.12,440.51 345.42,440.51 342.77,435.89" fill="#6e4a80" fill-opacity="0.9"/>
<polygon points="347.24,393.31 352.54,393.31 349.89,388.69" fill="#b9505a" fill-opacity="0.9"/>
<polygon points="347.24,435.91 352.54,435.91 349.89,431.29" fill="#d9786e" fill-opacity="0.9"/>
<polygon points="347.24,440.51 352.54,440.51 349.89,435.89" fill="#b9505a" fill-opacity="0.9"/>
<polygon points="347.24,445.11 352.54,445.11 349.89,440.49" fill="#8a3d55" fill-opacity="0.9"/>
<polygon points="354.36,410.61 359.66,410.61 357.01,405.99" fill="#b9505a" fill-opacity="0.9"/>
<polygon points="361.48,398.31 366.78,398.31 364.13,393.69" fill="#8a3d55" fill-opacity="0.9"/>
<polygon points="361.48,440.51 366.78,440.51 364.13,435.89" fill="#8a3d55" fill-opacity="0.9"/>
<polygon points="368.59,388.71 373.89,388.71 371.24,384.09" fill="#b9505a" fill-opacity="0.9"/>
<polygon points="368.59,441.71 373.89,441.71 371.24,437.09" fill="#d9786e" fill-opacity="0.9"/>
<polygon points="368.59,446.61 373.89,446.61 371.24,441.99" fill="#8a3d55" fill-opacity="0.9"/>
<polygon points="375.71,432.81 381.01,432.81 378.36,428.19" fill="#a8d6b4" fill-opacity="0.9"/>
<polygon points="375.71,444.31 381.01,444.31 378.36,439.69" fill="#8a3d55" fill-opacity="0.9"/>
<polygon points="375.71,445.31 381.01,445.31 378.36,440.69" fill="#8a3d55" fill-opacity="0.9"/>
<polygon points="382.83,380.81 388.13,380.81 385.48,376.19" fill="#b9505a" fill-opacity="0.9"/>
<polygon points="382.83,393.31 388.13,393.31 385.48,388.69" fill="#b9505a" fill-opacity="0.9"/>
<polygon points="382.83,405.01 388.13,405.01 385.48,400.39" fill="#b9505a" fill-opacity="0.9"/>
<polygon points="382.83,442.81 388.13,442.81 385.48,438.19" fill="#8a3d55" fill-opacity="0.9"/>
<polygon points="382.83,446.61 388.13,446.61 385.48,441.99" fill="#8a3d55" fill-opacity="0.9"/>
<polygon points="389.95,432.81 395.25,432.81 392.60,428.19" fill="#8a3d55" fill-opacity="0.9"/>
<polygon points="397.07,432.81 402.37,432.81 399.72,428.19" fill="#a8d6b4" fill-opacity="0.9"/>
<polygon points="397.07,435.11 402.37,435.11 399.72,430.49" fill="#8a3d55" fill-opacity="0.9"/>
<polygon points="397.07,444.31 402.37,444.31 399.72,439.69" fill="#8a3d55" fill-opacity="0.9"/>
<polygon points="397.07,446.61 402.37,446.61 399.72,441.99" fill="#8a3d55" fill-opacity="0.9"/>
<polygon points="404.18,390.71 409.48,390.71 406.83,386.09" fill="#8a3d55" fill-opacity="0.9"/>
<polygon points="404.18,426.71 409.48,426.71 406.83,422.09" fill="#8a3d55" fill-opacity="0.9"/>
<polygon points="404.18,441.31 409.48,441.31 406.83,436.69" fill="#8a3d55" fill-opacity="0.9"/>
<polygon points="404.18,444.31 409.48,444.31 406.83,439.69" fill="#b9505a" fill-opacity="0.9"/>
<polygon points="404.18,446.61 409.48,446.61 406.83,441.99" fill="#8a3d55" fill-opacity="0.9"/>
<polygon points="411.30,427.91 416.60,427.91 413.95,423.29" fill="#a8d6b4" fill-opacity="0.9"/>
<polygon points="411.30,440.21 416.60,440.21 413.95,435.59" fill="#6cc0a8" fill-opacity="0.9"/>
<polygon points="418.42,427.91 423.72,427.91 421.07,423.29" fill="#d9786e" fill-opacity="0.9"/>
<polygon points="418.42,438.21 423.72,438.21 421.07,433.59" fill="#8a3d55" fill-opacity="0.9"/>
<polygon points="418.42,440.51 423.72,440.51 421.07,435.89" fill="#b9505a" fill-opacity="0.9"/>
<polygon points="425.54,432.51 430.84,432.51 428.19,427.89" fill="#8a3d55" fill-opacity="0.9"/>
<polygon points="425.54,438.21 430.84,438.21 428.19,433.59" fill="#8a3d55" fill-opacity="0.9"/>
<polygon points="425.54,443.31 430.84,443.31 428.19,438.69" fill="#8a3d55" fill-opacity="0.9"/>
<polygon points="432.66,389.21 437.96,389.21 435.31,384.59" fill="#8a3d55" fill-opacity="0.9"/>
<polygon points="432.66,398.31 437.96,398.31 435.31,393.69" fill="#8a3d55" fill-opacity="0.9"/>
<polygon points="432.66,420.61 437.96,420.61 435.31,415.99" fill="#8a3d55" fill-opacity="0.9"/>
<polygon points="432.66,425.91 437.96,425.91 435.31,421.29" fill="#8a3d55" fill-opacity="0.9"/>
<polygon points="439.77,412.91 445.07,412.91 442.42,408.29" fill="#d9786e" fill-opacity="0.9"/>
<polygon points="439.77,443.61 445.07,443.61 442.42,438.99" fill="#8a3d55" fill-opacity="0.9"/>
<polygon points="439.77,446.61 445.07,446.61 442.42,441.99" fill="#8a3d55" fill-opacity="0.9"/>
<polygon points="446.89,432.81 452.19,432.81 449.54,428.19" fill="#d9786e" fill-opacity="0.9"/>
<polygon points="446.89,443.31 452.19,443.31 449.54,438.69" fill="#a8d6b4" fill-opacity="0.9"/>
<polygon points="446.89,446.61 452.19,446.61 449.54,441.99" fill="#8a3d55" fill-opacity="0.9"/>
<polygon points="454.01,415.31 459.31,415.31 456.66,410.69" fill="#b9505a" fill-opacity="0.9"/>
<polygon points="454.01,417.91 459.31,417.91 456.66,413.29" fill="#b9505a" fill-opacity="0.9"/>
<polygon points="454.01,419.91 459.31,419.91 456.66,415.29" fill="#b9505a" fill-opacity="0.9"/>
<polygon points="454.01,441.31 459.31,441.31 456.66,436.69" fill="#8a3d55" fill-opacity="0.9"/>
<polygon points="454.01,446.71 459.31,446.71 456.66,442.09" fill="#8a3d55" fill-opacity="0.9"/>
<polygon points="461.13,422.51 466.43,422.51 463.78,417.89" fill="#8a3d55" fill-opacity="0.9"/>
<polygon points="461.13,443.61 466.43,443.61 463.78,438.99" fill="#d9786e" fill-opacity="0.9"/>
<polygon points="468.25,428.31 473.55,428.31 470.90,423.69" fill="#d9786e" fill-opacity="0.9"/>
<polygon points="468.25,444.41 473.55,444.41 470.90,439.79" fill="#8a3d55" fill-opacity="0.9"/>
<polygon points="468.25,446.71 473.55,446.71 470.90,442.09" fill="#8a3d55" fill-opacity="0.9"/>
<polygon points="475.36,423.41 480.66,423.41 478.01,418.79" fill="#a8d6b4" fill-opacity="0.9"/>
<polygon points="475.36,445.21 480.66,445.21 478.01,440.59" fill="#a8d6b4" fill-opacity="0.9"/>
<polygon points="482.48,426.01 487.78,426.01 485.13,421.39" fill="#5e5aa8" fill-opacity="0.9"/>
<polygon points="489.60,428.01 494.90,428.01 492.25,423.39" fill="#b9505a" fill-opacity="0.9"/>
<polygon points="489.60,432.11 494.90,432.11 492.25,427.49" fill="#b9505a" fill-opacity="0.9"/>
<polygon points="489.60,435.21 494.90,435.21 492.25,430.59" fill="#8a3d55" fill-opacity="0.9"/>
<polygon points="489.60,444.41 494.90,444.41 492.25,439.79" fill="#d9786e" fill-opacity="0.9"/>
<polygon points="496.72,429.81 502.02,429.81 499.37,425.19" fill="#d9786e" fill-opacity="0.9"/>
<polygon points="503.84,339.61 509.14,339.61 506.49,334.99" fill="#b9505a" fill-opacity="0.9"/>
<polygon points="503.84,352.31 509.14,352.31 506.49,347.69" fill="#b9505a" fill-opacity="0.9"/>
<polygon points="503.84,373.31 509.14,373.31 506.49,368.69" fill="#b9505a" fill-opacity="0.9"/>
<polygon points="503.84,393.31 509.14,393.31 506.49,388.69" fill="#8a3d55" fill-opacity="0.9"/>
<polygon points="503.84,401.01 509.14,401.01 506.49,396.39" fill="#8a3d55" fill-opacity="0.9"/>
<polygon points="503.84,416.81 509.14,416.81 506.49,412.19" fill="#b9505a" fill-opacity="0.9"/>
<polygon points="503.84,419.11 509.14,419.11 506.49,414.49" fill="#b9505a" fill-opacity="0.9"/>
<polygon points="503.84,422.21 509.14,422.21 506.49,417.59" fill="#d9786e" fill-opacity="0.9"/>
<polygon points="503.84,432.91 509.14,432.91 506.49,428.29" fill="#b9505a" fill-opacity="0.9"/>
<polygon points="503.84,436.01 509.14,436.01 506.49,431.39" fill="#a8d6b4" fill-opacity="0.9"/>
<polygon points="503.84,444.91 509.14,444.91 506.49,440.29" fill="#8a3d55" fill-opacity="0.9"/>
<polygon points="510.95,426.01 516.25,426.01 513.60,421.39" fill="#8a3d55" fill-opacity="0.9"/>
<polygon points="510.95,436.71 516.25,436.71 513.60,432.09" fill="#d9786e" fill-opacity="0.9"/>
<polygon points="381.90,302.57 386.90,302.57 384.40,298.22" fill="#c06060" fill-opacity="0.9"/>
<line x1="395.20" y1="309.20" x2="389.60" y2="304.20" stroke="#333" stroke-width="0.6"/>
<polygon points="388.3,303 391.4,304.0 389.6,305.8" fill="#333"/>
<text x="397.40" y="310.70" font-size="4.5" fill="#333" textLength="27.7" lengthAdjust="spacingAndGlyphs" stroke="#333" stroke-width="0.12">TAPS16 (S45)</text>
<text x="397.40" y="316.00" font-size="4.5" font-style="italic" fill="#333" textLength="71.5" lengthAdjust="spacingAndGlyphs" stroke="#333" stroke-width="0.12">X-axis: 117 total number of variants</text>
<text x="397.40" y="321.10" font-size="4.5" font-style="italic" fill="#333" textLength="62.3" lengthAdjust="spacingAndGlyphs" stroke="#333" stroke-width="0.12">Y-axis: protein origin (CTNNB1)</text>
<text x="397.40" y="326.80" font-size="4.5" font-style="italic" fill="#333" textLength="70.4" lengthAdjust="spacingAndGlyphs" stroke="#333" stroke-width="0.12">Color: average of 84.6% of variants</text>
<text x="397.40" y="332.20" font-size="4.5" font-style="italic" fill="#333" textLength="69.2" lengthAdjust="spacingAndGlyphs" stroke="#333" stroke-width="0.12">result in non-synonymous variants</text>
<line x1="314.30" y1="456.30" x2="314.30" y2="458.70" stroke="#333" stroke-width="0.8"/>
<line x1="314.30" y1="484.30" x2="314.30" y2="486.70" stroke="#333" stroke-width="0.8"/>
<line x1="321.42" y1="456.30" x2="321.42" y2="458.70" stroke="#333" stroke-width="0.8"/>
<line x1="321.42" y1="484.30" x2="321.42" y2="486.70" stroke="#333" stroke-width="0.8"/>
<line x1="328.54" y1="456.30" x2="328.54" y2="458.70" stroke="#333" stroke-width="0.8"/>
<line x1="328.54" y1="484.30" x2="328.54" y2="486.70" stroke="#333" stroke-width="0.8"/>
<line x1="335.65" y1="456.30" x2="335.65" y2="458.70" stroke="#333" stroke-width="0.8"/>
<line x1="335.65" y1="484.30" x2="335.65" y2="486.70" stroke="#333" stroke-width="0.8"/>
<line x1="342.77" y1="456.30" x2="342.77" y2="458.70" stroke="#333" stroke-width="0.8"/>
<line x1="342.77" y1="484.30" x2="342.77" y2="486.70" stroke="#333" stroke-width="0.8"/>
<line x1="349.89" y1="456.30" x2="349.89" y2="458.70" stroke="#333" stroke-width="0.8"/>
<line x1="349.89" y1="484.30" x2="349.89" y2="486.70" stroke="#333" stroke-width="0.8"/>
<line x1="357.01" y1="456.30" x2="357.01" y2="458.70" stroke="#333" stroke-width="0.8"/>
<line x1="357.01" y1="484.30" x2="357.01" y2="486.70" stroke="#333" stroke-width="0.8"/>
<line x1="364.13" y1="456.30" x2="364.13" y2="458.70" stroke="#333" stroke-width="0.8"/>
<line x1="364.13" y1="484.30" x2="364.13" y2="486.70" stroke="#333" stroke-width="0.8"/>
<line x1="371.24" y1="456.30" x2="371.24" y2="458.70" stroke="#333" stroke-width="0.8"/>
<line x1="371.24" y1="484.30" x2="371.24" y2="486.70" stroke="#333" stroke-width="0.8"/>
<line x1="378.36" y1="456.30" x2="378.36" y2="458.70" stroke="#333" stroke-width="0.8"/>
<line x1="378.36" y1="484.30" x2="378.36" y2="486.70" stroke="#333" stroke-width="0.8"/>
<line x1="385.48" y1="456.30" x2="385.48" y2="458.70" stroke="#333" stroke-width="0.8"/>
<line x1="385.48" y1="484.30" x2="385.48" y2="486.70" stroke="#333" stroke-width="0.8"/>
<line x1="392.60" y1="456.30" x2="392.60" y2="458.70" stroke="#333" stroke-width="0.8"/>
<line x1="392.60" y1="484.30" x2="392.60" y2="486.70" stroke="#333" stroke-width="0.8"/>
<line x1="399.72" y1="456.30" x2="399.72" y2="458.70" stroke="#333" stroke-width="0.8"/>
<line x1="399.72" y1="484.30" x2="399.72" y2="486.70" stroke="#333" stroke-width="0.8"/>
<line x1="406.83" y1="456.30" x2="406.83" y2="458.70" stroke="#333" stroke-width="0.8"/>
<line x1="406.83" y1="484.30" x2="406.83" y2="486.70" stroke="#333" stroke-width="0.8"/>
<line x1="413.95" y1="456.30" x2="413.95" y2="458.70" stroke="#333" stroke-width="0.8"/>
<line x1="413.95" y1="484.30" x2="413.95" y2="486.70" stroke="#333" stroke-width="0.8"/>
<line x1="421.07" y1="456.30" x2="421.07" y2="458.70" stroke="#333" stroke-width="0.8"/>
<line x1="421.07" y1="484.30" x2="421.07" y2="486.70" stroke="#333" stroke-width="0.8"/>
<line x1="428.19" y1="456.30" x2="428.19" y2="458.70" stroke="#333" stroke-width="0.8"/>
<line x1="428.19" y1="484.30" x2="428.19" y2="486.70" stroke="#333" stroke-width="0.8"/>
<line x1="435.31" y1="456.30" x2="435.31" y2="458.70" stroke="#333" stroke-width="0.8"/>
<line x1="435.31" y1="484.30" x2="435.31" y2="486.70" stroke="#333" stroke-width="0.8"/>
<line x1="442.42" y1="456.30" x2="442.42" y2="458.70" stroke="#333" stroke-width="0.8"/>
<line x1="442.42" y1="484.30" x2="442.42" y2="486.70" stroke="#333" stroke-width="0.8"/>
<line x1="449.54" y1="456.30" x2="449.54" y2="458.70" stroke="#333" stroke-width="0.8"/>
<line x1="449.54" y1="484.30" x2="449.54" y2="486.70" stroke="#333" stroke-width="0.8"/>
<line x1="456.66" y1="456.30" x2="456.66" y2="458.70" stroke="#333" stroke-width="0.8"/>
<line x1="456.66" y1="484.30" x2="456.66" y2="486.70" stroke="#333" stroke-width="0.8"/>
<line x1="463.78" y1="456.30" x2="463.78" y2="458.70" stroke="#333" stroke-width="0.8"/>
<line x1="463.78" y1="484.30" x2="463.78" y2="486.70" stroke="#333" stroke-width="0.8"/>
<line x1="470.90" y1="456.30" x2="470.90" y2="458.70" stroke="#333" stroke-width="0.8"/>
<line x1="470.90" y1="484.30" x2="470.90" y2="486.70" stroke="#333" stroke-width="0.8"/>
<line x1="478.01" y1="456.30" x2="478.01" y2="458.70" stroke="#333" stroke-width="0.8"/>
<line x1="478.01" y1="484.30" x2="478.01" y2="486.70" stroke="#333" stroke-width="0.8"/>
<line x1="485.13" y1="456.30" x2="485.13" y2="458.70" stroke="#333" stroke-width="0.8"/>
<line x1="485.13" y1="484.30" x2="485.13" y2="486.70" stroke="#333" stroke-width="0.8"/>
<line x1="492.25" y1="456.30" x2="492.25" y2="458.70" stroke="#333" stroke-width="0.8"/>
<line x1="492.25" y1="484.30" x2="492.25" y2="486.70" stroke="#333" stroke-width="0.8"/>
<line x1="499.37" y1="456.30" x2="499.37" y2="458.70" stroke="#333" stroke-width="0.8"/>
<line x1="499.37" y1="484.30" x2="499.37" y2="486.70" stroke="#333" stroke-width="0.8"/>
<line x1="506.49" y1="456.30" x2="506.49" y2="458.70" stroke="#333" stroke-width="0.8"/>
<line x1="506.49" y1="484.30" x2="506.49" y2="486.70" stroke="#333" stroke-width="0.8"/>
<line x1="513.60" y1="456.30" x2="513.60" y2="458.70" stroke="#333" stroke-width="0.8"/>
<line x1="513.60" y1="484.30" x2="513.60" y2="486.70" stroke="#333" stroke-width="0.8"/>
<rect x="309.2" y="464" width="206.3" height="20.3" fill="none" stroke="#555" stroke-width="0.6"/>
<line x1="307.40" y1="474.20" x2="309.20" y2="474.20" stroke="#333" stroke-width="0.8"/>
<text x="305.20" y="475.50" font-size="3.8" text-anchor="end" fill="#2a2a2a" stroke="#2a2a2a" stroke-width="0.12">0</text>
<polygon points="311.65,476.11 316.95,476.11 314.30,471.49" fill="#5e5aaa" fill-opacity="0.95"/>
<polygon points="318.77,476.11 324.07,476.11 321.42,471.49" fill="#5e5aaa" fill-opacity="0.95"/>
<polygon points="325.89,476.11 331.19,476.11 328.54,471.49" fill="#5e5aaa" fill-opacity="0.95"/>
<polygon points="368.59,476.11 373.89,476.11 371.24,471.49" fill="#5e5aaa" fill-opacity="0.95"/>
<polygon points="375.71,476.11 381.01,476.11 378.36,471.49" fill="#5e5aaa" fill-opacity="0.95"/>
<polygon points="382.83,476.11 388.13,476.11 385.48,471.49" fill="#5e5aaa" fill-opacity="0.95"/>
<polygon points="404.18,476.11 409.48,476.11 406.83,471.49" fill="#5e5aaa" fill-opacity="0.95"/>
<polygon points="439.77,476.11 445.07,476.11 442.42,471.49" fill="#5e5aaa" fill-opacity="0.95"/>
<polygon points="446.89,476.11 452.19,476.11 449.54,471.49" fill="#5e5aaa" fill-opacity="0.95"/>
<polygon points="454.01,476.11 459.31,476.11 456.66,471.49" fill="#5e5aaa" fill-opacity="0.95"/>
<polygon points="461.13,476.11 466.43,476.11 463.78,471.49" fill="#5e5aaa" fill-opacity="0.95"/>
<polygon points="482.48,476.11 487.78,476.11 485.13,471.49" fill="#5e5aaa" fill-opacity="0.95"/>
<polygon points="496.72,476.11 502.02,476.11 499.37,471.49" fill="#5e5aaa" fill-opacity="0.95"/>
<text x="0" y="0" font-size="4.8" font-weight="bold" fill="#333" text-anchor="end" transform="translate(316.00,491.6) rotate(-90)">AKT1</text>
<text x="0" y="0" font-size="4.8" font-weight="bold" fill="#333" text-anchor="end" transform="translate(323.12,491.6) rotate(-90)">APC</text>
<text x="0" y="0" font-size="4.8" font-weight="bold" fill="#333" text-anchor="end" transform="translate(330.24,491.6) rotate(-90)">BAD</text>
<text x="0" y="0" font-size="4.8" font-weight="bold" fill="#333" text-anchor="end" transform="translate(337.35,491.6) rotate(-90)">BCL2</text>
<text x="0" y="0" font-size="4.8" font-weight="bold" fill="#333" text-anchor="end" transform="translate(344.47,491.6) rotate(-90)">BDKRB2</text>
<text x="0" y="0" font-size="4.8" font-weight="bold" fill="#333" text-anchor="end" transform="translate(351.59,491.6) rotate(-90)">BRAF</text>
<text x="0" y="0" font-size="4.8" font-weight="bold" fill="#333" text-anchor="end" transform="translate(358.71,491.6) rotate(-90)">CASR</text>
<text x="0" y="0" font-size="4.8" font-weight="bold" fill="#333" text-anchor="end" transform="translate(365.83,491.6) rotate(-90)">CD79B</text>
<text x="0" y="0" font-size="4.8" font-weight="bold" fill="#333" text-anchor="end" transform="translate(372.94,491.6) rotate(-90)">CDC25C</text>
<text x="0" y="0" font-size="4.8" font-weight="bold" fill="#333" text-anchor="end" transform="translate(380.06,491.6) rotate(-90)">CHAT</text>
<text x="0" y="0" font-size="4.8" font-weight="bold" fill="#333" text-anchor="end" transform="translate(387.18,491.6) rotate(-90)">CTNNB1</text>
<text x="0" y="0" font-size="4.8" font-weight="bold" fill="#333" text-anchor="end" transform="translate(394.30,491.6) rotate(-90)">DAPP1</text>
<text x="0" y="0" font-size="4.8" font-weight="bold" fill="#333" text-anchor="end" transform="translate(401.42,491.6) rotate(-90)">EEF2K</text>
<text x="0" y="0" font-size="4.8" font-weight="bold" fill="#333" text-anchor="end" transform="translate(408.53,491.6) rotate(-90)">EGFR</text>
<text x="0" y="0" font-size="4.8" font-weight="bold" fill="#333" text-anchor="end" transform="translate(415.65,491.6) rotate(-90)">ELK1</text>
<text x="0" y="0" font-size="4.8" font-weight="bold" fill="#333" text-anchor="end" transform="translate(422.77,491.6) rotate(-90)">ETV1</text>
<text x="0" y="0" font-size="4.8" font-weight="bold" fill="#333" text-anchor="end" transform="translate(429.89,491.6) rotate(-90)">FCGR2A</text>
<text x="0" y="0" font-size="4.8" font-weight="bold" fill="#333" text-anchor="end" transform="translate(437.01,491.6) rotate(-90)">FLT3</text>
<text x="0" y="0" font-size="4.8" font-weight="bold" fill="#333" text-anchor="end" transform="translate(444.12,491.6) rotate(-90)">GFAP</text>
<text x="0" y="0" font-size="4.8" font-weight="bold" fill="#333" text-anchor="end" transform="translate(451.24,491.6) rotate(-90)">GRIN2A</text>
<text x="0" y="0" font-size="4.8" font-weight="bold" fill="#333" text-anchor="end" transform="translate(458.36,491.6) rotate(-90)">KIT</text>
<text x="0" y="0" font-size="4.8" font-weight="bold" fill="#333" text-anchor="end" transform="translate(465.48,491.6) rotate(-90)">MYC</text>
<text x="0" y="0" font-size="4.8" font-weight="bold" fill="#333" text-anchor="end" transform="translate(472.60,491.6) rotate(-90)">NEFH</text>
<text x="0" y="0" font-size="4.8" font-weight="bold" fill="#333" text-anchor="end" transform="translate(479.71,491.6) rotate(-90)">NOS1</text>
<text x="0" y="0" font-size="4.8" font-weight="bold" fill="#333" text-anchor="end" transform="translate(486.83,491.6) rotate(-90)">PLCG1</text>
<text x="0" y="0" font-size="4.8" font-weight="bold" fill="#333" text-anchor="end" transform="translate(493.95,491.6) rotate(-90)">PTEN</text>
<text x="0" y="0" font-size="4.8" font-weight="bold" fill="#333" text-anchor="end" transform="translate(501.07,491.6) rotate(-90)">STAT3</text>
<text x="0" y="0" font-size="4.8" font-weight="bold" fill="#333" text-anchor="end" transform="translate(508.19,491.6) rotate(-90)">TP53</text>
<text x="0" y="0" font-size="4.8" font-weight="bold" fill="#333" text-anchor="end" transform="translate(515.30,491.6) rotate(-90)">WT1</text>
<line x1="312.40" y1="479.40" x2="293.10" y2="501.90" stroke="#333" stroke-width="0.5"/>
<text x="295.00" y="505.20" font-size="4.3" text-anchor="end" font-weight="bold" fill="#222">HPR targets</text>
<text x="295.00" y="510.20" font-size="4.3" text-anchor="end" font-weight="bold" fill="#222">without reported</text>
<text x="295.00" y="515.20" font-size="4.3" text-anchor="end" font-weight="bold" fill="#222">variants</text>
</svg>
</body></html>
